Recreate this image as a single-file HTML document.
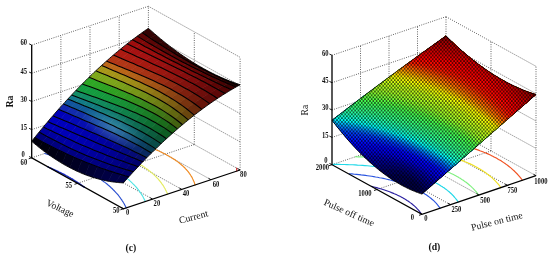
<!DOCTYPE html>
<html><head><meta charset="utf-8"><title>Surface plots</title>
<style>
html,body{margin:0;padding:0;background:#fff}
svg{display:block}
.tk{font-family:"Liberation Serif",serif;font-weight:bold;font-size:7.7px;fill:#111}
.lb{font-family:"Liberation Serif",serif;font-size:9.7px;fill:#111}
.cp{font-family:"Liberation Serif",serif;font-weight:bold;font-size:9.7px;fill:#111}
</style></head><body>
<svg width="550" height="258" viewBox="0 0 550 258">
<defs>
<pattern id="dots" patternUnits="userSpaceOnUse" width="3.3" height="3.8" x="0.4" y="0.3">
<path fill="#000" fill-rule="evenodd" d="M-2 -2H6V6H-2Z M2.81 1.9A1.16 1.16 0 1 0 0.49 1.9A1.16 1.16 0 1 0 2.81 1.9Z M1.16 0A1.16 1.16 0 1 0 -1.16 0A1.16 1.16 0 1 0 1.16 0Z M4.46 0A1.16 1.16 0 1 0 2.14 0A1.16 1.16 0 1 0 4.46 0Z M1.16 3.8A1.16 1.16 0 1 0 -1.16 3.8A1.16 1.16 0 1 0 1.16 3.8Z M4.46 3.8A1.16 1.16 0 1 0 2.14 3.8A1.16 1.16 0 1 0 4.46 3.8Z"/>
</pattern>
<radialGradient id="hl"><stop offset="0" stop-color="#9ff" stop-opacity="0.28"/><stop offset="1" stop-color="#9ff" stop-opacity="0"/></radialGradient>
</defs>
<rect width="550" height="258" fill="#fff"/>
<path d="M31.7 157.8L148.4 119M31.7 129.6L148.4 90.8M31.7 101.5L148.4 62.6M31.7 73.3L148.4 34.5M31.7 45.1L148.4 6.3M60.9 148.1L60.9 35.4M90 138.4L90 25.7M119.2 128.7L119.2 16M148.4 119L148.4 6.3M148.4 119L240.1 170M148.4 90.8L240.1 141.8M148.4 62.6L240.1 113.7M148.4 34.5L240.1 85.5M148.4 6.3L240.1 57.3M194.3 144.5L194.3 31.8M240.1 170L240.1 57.3M60.9 148.1L152.6 199.1M90 138.4L181.8 189.4M119.2 128.7L210.9 179.7M77.6 183.3L194.3 144.5" stroke="#383838" stroke-width="0.85" stroke-dasharray="0.9 1.4" fill="none"/>
<path d="M332 164.7L446 126.1M332 137.4L446 98.8M332 110L446 71.4M332 82.7L446 44.1M332 55.3L446 16.7M360.5 155.1L360.5 45.7M389 145.4L389 36M417.5 135.8L417.5 26.4M446 126.1L446 16.7M446 126.1L536 175.7M446 98.8L536 148.4M446 71.4L536 121M446 44.1L536 93.7M446 16.7L536 66.3M491 150.9L491 41.5M536 175.7L536 66.3M360.5 155.1L450.5 204.7M389 145.4L479 195M417.5 135.8L507.5 185.4M377 189.5L491 150.9" stroke="#383838" stroke-width="0.85" stroke-dasharray="0.9 1.4" fill="none"/>
<polyline points="47.7,166.7 48.9,167.4 50.2,167.9 51.6,168.5 52.9,169.1 54.2,169.7 55.4,170.3 56.7,170.9 58,171.5 59.2,172.1 60.5,172.7 61.7,173.3 62.9,173.9 64.1,174.5 65.3,175.2 66.4,175.8 67.6,176.4 68.7,177.1 69.8,177.7 71,178.4 72.1,179 73.2,179.7 74.2,180.3 75.3,181 76.3,181.7 77.4,182.3 78.4,183 79.4,183.7 80.4,184.4 81.4,185.1 82.3,185.8 83.3,186.5 84.4,187.1" stroke="#1c2cc8" stroke-width="1.5" fill="none" stroke-linecap="round"/>
<polyline points="44.7,153.5 46.3,154 47.8,154.5 49.3,155 50.9,155.5 52.4,156 53.9,156.5 55.4,157.1 56.8,157.6 58.3,158.1 59.7,158.7 61.2,159.2 62.6,159.8 64,160.3 65.4,160.9 66.8,161.4 68.1,162 69.5,162.5 70.8,163.1 72.2,163.7 73.5,164.3 74.8,164.9 76.1,165.4 77.4,166 78.6,166.6 79.9,167.2 81.1,167.8 82.4,168.5 83.6,169.1 84.8,169.7 86,170.3 87.1,170.9 88.3,171.6 89.4,172.2 90.6,172.9 91.7,173.5 92.8,174.2 93.9,174.8 94.9,175.5 96,176.1 97,176.8 98.1,177.5 99.1,178.2 100.1,178.9 101.1,179.6 102,180.3 103,181 103.9,181.7 104.9,182.4 105.8,183.1 106.7,183.8 107.5,184.5 108.4,185.3 109.3,186 110.1,186.7 110.9,187.5 111.7,188.2 112.5,189 113.3,189.8 114,190.5 114.8,191.3 115.5,192.1 116.2,192.9 116.9,193.6 117.6,194.4 118.3,195.2 118.9,196 119.5,196.8 120.1,197.7 120.7,198.5 121.3,199.3 121.9,200.1 122.4,201 123,201.8 123.5,202.7 124,203.5 124.5,204.4 124.9,205.2 125.4,206.1 125.8,207 126.2,207.9" stroke="#2a4fd0" stroke-width="1.15" fill="none" stroke-linecap="round"/>
<polyline points="61.9,147.8 63.5,148.2 65.1,148.7 66.7,149.2 68.3,149.7 69.8,150.2 71.4,150.7 72.9,151.2 74.4,151.7 76,152.3 77.5,152.8 78.9,153.3 80.4,153.8 81.9,154.4 83.3,154.9 84.7,155.4 86.2,156 87.6,156.5 89,157.1 90.3,157.7 91.7,158.2 93.1,158.8 94.4,159.4 95.7,159.9 97,160.5 98.3,161.1 99.6,161.7 100.9,162.3 102.1,162.9 103.4,163.5 104.6,164.1 105.8,164.7 107,165.4 108.2,166 109.3,166.6 110.5,167.3 111.6,167.9 112.7,168.5 113.8,169.2 114.9,169.9 116,170.5 117.1,171.2 118.1,171.9 119.1,172.5 120.1,173.2 121.1,173.9 122.1,174.6 123.1,175.3 124,176 125,176.7 125.9,177.4 126.8,178.1 127.6,178.9 128.5,179.6 129.4,180.3 130.2,181.1 131,181.8 131.8,182.6 132.6,183.3 133.3,184.1 134.1,184.9 134.8,185.7 135.5,186.4 136.2,187.2 136.9,188 137.6,188.8 138.2,189.6 138.8,190.4 139.4,191.2 140,192.1 140.6,192.9 141.1,193.7 141.7,194.6 142.2,195.4 142.7,196.3 143.2,197.1 143.6,198 144.1,198.9 144.5,199.7 144.9,200.6 145.3,201.5" stroke="#50e4e4" stroke-width="1.15" fill="none" stroke-linecap="round"/>
<polyline points="81.3,141.3 83,141.8 84.6,142.2 86.3,142.7 87.9,143.2 89.6,143.6 91.2,144.1 92.8,144.6 94.4,145.1 96,145.6 97.6,146.1 99.1,146.6 100.7,147.1 102.2,147.6 103.7,148.1 105.2,148.6 106.7,149.2 108.2,149.7 109.7,150.2 111.1,150.7 112.6,151.3 114,151.8 115.4,152.4 116.8,152.9 118.1,153.5 119.5,154.1 120.8,154.6 122.2,155.2 123.5,155.8 124.8,156.4 126.1,157 127.3,157.6 128.6,158.2 129.8,158.8 131,159.4 132.2,160 133.4,160.6 134.6,161.3 135.8,161.9 136.9,162.6 138,163.2 139.1,163.9 140.2,164.5 141.3,165.2 142.3,165.8 143.3,166.5 144.4,167.2 145.3,167.9 146.3,168.6 147.3,169.3 148.2,170 149.1,170.7 150.1,171.4 150.9,172.1 151.8,172.9 152.7,173.6 153.5,174.4 154.3,175.1 155.1,175.9 155.9,176.6 156.6,177.4 157.3,178.2 158.1,178.9 158.7,179.7 159.4,180.5 160.1,181.3 160.7,182.1 161.3,182.9 161.9,183.8 162.5,184.6 163.1,185.4 163.6,186.3 164.1,187.1 164.6,188 165.1,188.8 165.5,189.7 166,190.6 166.4,191.5 166.8,192.3 167.2,193.2 167.5,194.1" stroke="#e4ec60" stroke-width="1.15" fill="none" stroke-linecap="round"/>
<polyline points="103.9,133.8 105.7,134.2 107.5,134.6 109.3,135.1 111.1,135.5 112.8,135.9 114.6,136.4 116.3,136.8 118,137.2 119.7,137.7 121.4,138.1 123.1,138.6 124.8,139.1 126.5,139.5 128.1,140 129.7,140.5 131.3,141 132.9,141.5 134.5,141.9 136.1,142.4 137.7,142.9 139.2,143.5 140.7,144 142.2,144.5 143.7,145 145.2,145.5 146.7,146.1 148.1,146.6 149.5,147.1 150.9,147.7 152.3,148.3 153.7,148.8 155.1,149.4 156.4,150 157.7,150.5 159,151.1 160.3,151.7 161.6,152.3 162.8,152.9 164,153.5 165.2,154.1 166.4,154.8 167.6,155.4 168.7,156 169.8,156.7 171,157.3 172,158 173.1,158.7 174.1,159.3 175.2,160 176.1,160.7 177.1,161.4 178.1,162.1 179,162.8 179.9,163.5 180.8,164.3 181.6,165 182.5,165.7 183.3,166.5 184.1,167.2 184.9,168 185.6,168.8 186.3,169.5 187,170.3 187.7,171.1 188.3,171.9 188.9,172.7 189.5,173.6 190.1,174.4 190.7,175.2 191.2,176.1 191.7,176.9 192.2,177.8 192.6,178.7 193,179.5 193.4,180.4 193.8,181.3 194.2,182.2 194.5,183.1 194.8,184 195.1,185" stroke="#f08a20" stroke-width="1.15" fill="none" stroke-linecap="round"/>
<polyline points="132.3,124.4 134.4,124.7 136.4,125 138.5,125.4 140.5,125.7 142.5,126 144.5,126.4 146.6,126.7 148.6,127.1 150.5,127.5 152.5,127.8 154.5,128.2 156.5,128.5 158.4,128.9 160.3,129.3 162.3,129.7 164.2,130.1 166.1,130.4 168,130.8 169.9,131.2" stroke="#d02020" stroke-width="1.15" fill="none" stroke-linecap="round"/>
<polyline points="236.7,168.1 236.7,169.1 236.8,170.1 236.8,171.1" stroke="#d02020" stroke-width="1.15" fill="none" stroke-linecap="round"/>
<polyline points="371.5,186.3 373.3,186.8 375,187.2 376.6,187.6 378.2,188.1 379.8,188.5 381.4,189 382.9,189.5 384.5,190 385.9,190.5 387.4,191 388.8,191.5 390.2,192 391.6,192.6 392.9,193.1 394.3,193.7 395.6,194.2 396.8,194.8 398.1,195.4 399.3,196 400.4,196.6 401.6,197.2 402.7,197.8 403.8,198.4 404.9,199.1 406,199.7 407,200.4 408,201 409,201.7 409.9,202.4 410.9,203.1 411.8,203.8 412.6,204.5 413.5,205.2 414.3,205.9 415.1,206.6 415.9,207.4 416.6,208.1 417.3,208.9 418,209.6 418.7,210.4 419.4,211.2 420,212 420.6,212.8 421.1,213.6" stroke="#2a1fa0" stroke-width="1.15" fill="none" stroke-linecap="round"/>
<polyline points="349.6,173.7 352,173.9 354.3,174.2 356.6,174.4 358.9,174.6 361.1,174.9 363.3,175.1 365.4,175.4 367.5,175.7 369.6,176 371.7,176.3 373.7,176.6 375.6,177 377.6,177.3 379.5,177.7 381.4,178 383.2,178.4 385,178.8 386.8,179.2 388.5,179.6 390.3,180 391.9,180.4 393.6,180.9 395.2,181.3 396.8,181.8 398.4,182.3 399.9,182.7 401.5,183.2 402.9,183.7 404.4,184.2 405.8,184.7 407.2,185.3 408.6,185.8 410,186.3 411.3,186.9 412.6,187.5 413.9,188 415.1,188.6 416.4,189.2 417.6,189.8 418.7,190.4 419.9,191 421,191.6 422.1,192.2 423.2,192.9 424.2,193.5 425.2,194.2 426.2,194.8 427.2,195.5 428.2,196.2 429.1,196.9 430,197.6 430.9,198.3 431.7,199 432.6,199.7 433.4,200.4 434.2,201.2 434.9,201.9 435.6,202.7 436.4,203.4 437,204.2 437.7,205 438.3,205.8 438.9,206.6 439.5,207.4 440.1,208.2" stroke="#2a55e0" stroke-width="1.15" fill="none" stroke-linecap="round"/>
<polyline points="332.8,164.4 335.8,164.4 338.7,164.4 341.5,164.5 344.3,164.5 347,164.6 349.7,164.7 352.4,164.8 355,164.9 357.5,165.1 360,165.2 362.5,165.4 364.9,165.6 367.3,165.8 369.7,166 372,166.2 374.2,166.4 376.5,166.7 378.7,166.9 380.8,167.2 382.9,167.5 385,167.8 387.1,168.1 389.1,168.4 391,168.7 393,169.1 394.9,169.4 396.8,169.8 398.6,170.2 400.4,170.6 402.2,171 404,171.4 405.7,171.8 407.4,172.2 409,172.6 410.7,173.1 412.3,173.6 413.9,174 415.4,174.5 416.9,175 418.4,175.5 419.9,176 421.3,176.5 422.7,177 424.1,177.5 425.5,178.1 426.8,178.6 428.1,179.2 429.4,179.8 430.7,180.3 431.9,180.9 433.1,181.5 434.3,182.1 435.5,182.7 436.6,183.3 437.8,183.9 438.9,184.6 439.9,185.2 441,185.9 442,186.5 443,187.2 444,187.8 444.9,188.5 445.9,189.2 446.8,189.9 447.6,190.6 448.5,191.3 449.4,192 450.2,192.8 451,193.5 451.7,194.2 452.5,195 453.2,195.7 453.9,196.5 454.6,197.3 455.2,198 455.9,198.8 456.5,199.6 457.1,200.4 457.6,201.2 458.2,202" stroke="#20d8e8" stroke-width="1.15" fill="none" stroke-linecap="round"/>
<polyline points="355.5,156.7 358.4,156.8 361.2,156.8 364,156.9 366.7,157 369.4,157.1 372,157.2 374.6,157.3 377.1,157.4 379.6,157.6 382.1,157.8 384.5,157.9 386.9,158.1 389.2,158.4 391.5,158.6 393.7,158.8 395.9,159.1 398.1,159.3 400.2,159.6 402.3,159.9 404.4,160.2 406.4,160.5 408.4,160.8 410.4,161.2 412.3,161.5 414.2,161.9 416.1,162.3 417.9,162.6 419.7,163 421.5,163.4 423.2,163.8 424.9,164.3 426.6,164.7 428.2,165.1 429.9,165.6 431.5,166.1 433,166.5 434.6,167 436.1,167.5 437.6,168 439,168.5 440.5,169 441.9,169.5 443.3,170.1 444.6,170.6 446,171.2 447.3,171.7 448.6,172.3 449.8,172.8 451.1,173.4 452.3,174 453.5,174.6 454.7,175.2 455.8,175.8 456.9,176.4 458.1,177.1 459.1,177.7 460.2,178.3 461.2,179 462.3,179.7 463.3,180.3 464.2,181 465.2,181.7 466.1,182.3 467,183 467.9,183.7 468.8,184.5 469.6,185.2 470.4,185.9 471.2,186.6 472,187.4 472.8,188.1 473.5,188.8 474.2,189.6 474.9,190.4 475.6,191.1 476.3,191.9 476.9,192.7 477.5,193.5 478.1,194.3 478.7,195.1" stroke="#80f080" stroke-width="1.15" fill="none" stroke-linecap="round"/>
<polyline points="382.4,147.6 385.2,147.7 387.9,147.8 390.6,147.9 393.2,148 395.8,148.1 398.3,148.3 400.8,148.4 403.2,148.6 405.6,148.8 407.9,149 410.2,149.2 412.5,149.5 414.7,149.7 416.9,150 419,150.2 421.2,150.5 423.2,150.8 425.3,151.1 427.3,151.5 429.2,151.8 431.2,152.1 433.1,152.5 434.9,152.9 436.8,153.2 438.6,153.6 440.4,154 442.1,154.4 443.8,154.9 445.5,155.3 447.2,155.7 448.8,156.2 450.4,156.6 452,157.1 453.5,157.6 455.1,158.1 456.6,158.6 458,159.1 459.5,159.6 460.9,160.1 462.3,160.6 463.7,161.1 465,161.7 466.4,162.2 467.7,162.8 469,163.4 470.2,163.9 471.5,164.5 472.7,165.1 473.9,165.7 475,166.3 476.2,166.9 477.3,167.5 478.4,168.2 479.5,168.8 480.6,169.4 481.6,170.1 482.7,170.7 483.7,171.4 484.7,172.1 485.6,172.7 486.6,173.4 487.5,174.1 488.4,174.8 489.3,175.5 490.2,176.2 491,176.9 491.9,177.6 492.7,178.4 493.4,179.1 494.2,179.8 495,180.6 495.7,181.3 496.4,182.1 497.1,182.9 497.8,183.6 498.4,184.4 499.1,185.2 499.7,186 500.3,186.8 500.8,187.6" stroke="#f0e020" stroke-width="1.15" fill="none" stroke-linecap="round"/>
<polyline points="410,138.3 412.6,138.4 415.2,138.5 417.7,138.7 420.2,138.9 422.6,139 425,139.2 427.3,139.4 429.6,139.7 431.8,139.9 434.1,140.2 436.2,140.4 438.4,140.7 440.5,141 442.5,141.3 444.5,141.6 446.5,141.9 448.5,142.3 450.4,142.6 452.3,143 454.1,143.4 456,143.7 457.8,144.1 459.5,144.5 461.2,145 462.9,145.4 464.6,145.8 466.3,146.3 467.9,146.7 469.5,147.2 471,147.6 472.6,148.1 474.1,148.6 475.6,149.1 477,149.6 478.5,150.1 479.9,150.7 481.3,151.2 482.7,151.7 484,152.3 485.3,152.8 486.6,153.4 487.9,153.9 489.2,154.5 490.4,155.1 491.6,155.7 492.8,156.3 494,156.9 495.2,157.5 496.3,158.1 497.4,158.7 498.5,159.4 499.6,160 500.7,160.6 501.7,161.3 502.7,161.9 503.7,162.6 504.7,163.3 505.7,164 506.6,164.6 507.5,165.3 508.4,166 509.3,166.7 510.2,167.4 511.1,168.1 511.9,168.8 512.7,169.6 513.5,170.3 514.3,171 515.1,171.8 515.8,172.5 516.6,173.3 517.3,174 518,174.8 518.7,175.6 519.3,176.3 520,177.1 520.6,177.9 521.2,178.7 521.8,179.5 522.3,180.3" stroke="#f05020" stroke-width="1.15" fill="none" stroke-linecap="round"/>
<clipPath id="clipL"><polygon points="31.7,141.3 33.2,142.6 34.8,143.9 36.3,145.1 37.8,146.4 39.3,147.6 40.9,148.8 42.4,150 43.9,151.2 45.5,152.3 47,153.4 48.5,154.5 50,155.6 51.6,156.7 53.1,157.7 54.6,158.7 56.2,159.7 57.7,160.7 59.2,161.6 60.7,162.6 62.3,163.5 63.8,164.4 65.3,165.3 66.9,166.1 68.4,166.9 69.9,167.7 71.4,168.5 73,169.3 74.5,170 76,170.8 77.6,171.5 79.1,172.1 80.6,172.8 82.1,173.5 83.7,174.1 85.2,174.7 86.7,175.3 88.2,175.8 89.8,176.3 91.3,176.9 92.8,177.4 94.4,177.8 95.9,178.3 97.4,178.7 98.9,179.1 100.5,179.5 102,179.9 103.5,180.2 105.1,180.6 106.6,180.9 108.1,181.2 109.6,181.4 111.2,181.7 112.7,181.9 114.2,182.1 115.8,182.3 117.3,182.4 118.8,182.6 120.3,182.7 121.9,182.8 123.4,182.9 123.4,182.9 125.3,180.7 127.3,178.5 129.2,176.4 131.2,174.2 133.1,172.1 135.1,170 137,167.9 139,165.9 140.9,163.8 142.8,161.8 144.8,159.8 146.7,157.8 148.7,155.8 150.6,153.9 152.6,152 154.5,150.1 156.5,148.2 158.4,146.3 160.4,144.4 162.3,142.6 164.2,140.8 166.2,139 168.1,137.2 170.1,135.5 172,133.7 174,132 175.9,130.3 177.9,128.6 179.8,126.9 181.8,125.3 183.7,123.7 185.6,122.1 187.6,120.5 189.5,118.9 191.5,117.4 193.4,115.8 195.4,114.3 197.3,112.8 199.3,111.3 201.2,109.9 203.1,108.4 205.1,107 207,105.6 209,104.2 210.9,102.9 212.9,101.5 214.8,100.2 216.8,98.9 218.7,97.6 220.7,96.4 222.6,95.1 224.5,93.9 226.5,92.7 228.4,91.5 230.4,90.3 232.3,89.2 234.3,88 236.2,86.9 238.2,85.8 240.1,84.7 240.1,84.7 238.6,84.2 237,83.7 235.5,83.2 234,82.6 232.5,82 230.9,81.5 229.4,80.9 227.9,80.3 226.3,79.6 224.8,79 223.3,78.3 221.8,77.7 220.2,77 218.7,76.3 217.2,75.6 215.6,74.9 214.1,74.1 212.6,73.4 211.1,72.6 209.5,71.8 208,71 206.5,70.2 204.9,69.3 203.4,68.5 201.9,67.6 200.4,66.8 198.8,65.9 197.3,65 195.8,64.1 194.3,63.1 192.7,62.2 191.2,61.2 189.7,60.2 188.1,59.2 186.6,58.2 185.1,57.2 183.6,56.2 182,55.1 180.5,54.1 179,53 177.4,51.9 175.9,50.8 174.4,49.6 172.9,48.5 171.3,47.4 169.8,46.2 168.3,45 166.7,43.8 165.2,42.6 163.7,41.4 162.2,40.1 160.6,38.9 159.1,37.6 157.6,36.3 156,35 154.5,33.7 153,32.4 151.5,31 149.9,29.7 148.4,28.3 148.4,28.3 146.5,29.6 144.5,30.9 142.6,32.3 140.6,33.7 138.7,35.1 136.7,36.5 134.8,38 132.8,39.4 130.9,40.9 128.9,42.4 127,43.9 125.1,45.4 123.1,47 121.2,48.6 119.2,50.2 117.3,51.8 115.3,53.4 113.4,55 111.4,56.7 109.5,58.4 107.6,60.1 105.6,61.8 103.7,63.6 101.7,65.3 99.8,67.1 97.8,68.9 95.9,70.7 93.9,72.5 92,74.4 90,76.3 88.1,78.2 86.2,80.1 84.2,82 82.3,84 80.3,85.9 78.4,87.9 76.4,89.9 74.5,91.9 72.5,94 70.6,96.1 68.7,98.1 66.7,100.2 64.8,102.4 62.8,104.5 60.9,106.6 58.9,108.8 57,111 55,113.2 53.1,115.5 51.1,117.7 49.2,120 47.3,122.3 45.3,124.6 43.4,126.9 41.4,129.3 39.5,131.6 37.5,134 35.6,136.4 33.6,138.8 31.7,141.3"/></clipPath>
<g clip-path="url(#clipL)" stroke-linejoin="round" stroke-width="0.6">
<polygon points="31.7,141.3 39.3,147.6 42.6,141.9 34.7,137.5" fill="#00000e" stroke="#00000e"/>
<polygon points="39.3,147.6 47,153.4 50.4,146 42.6,141.9" fill="#000010" stroke="#000010"/>
<polygon points="47,153.4 54.6,158.7 58.2,149.9 50.4,146" fill="#000014" stroke="#000014"/>
<polygon points="54.6,158.7 62.3,163.5 66.1,153.7 58.2,149.9" fill="#000019" stroke="#000019"/>
<polygon points="62.3,163.5 69.9,167.7 74,157.3 66.1,153.7" fill="#000020" stroke="#000020"/>
<polygon points="69.9,167.7 77.6,171.5 81.8,160.6 74,157.3" fill="#000027" stroke="#000027"/>
<polygon points="77.6,171.5 85.2,174.7 89.7,163.8 81.8,160.6" fill="#000030" stroke="#000030"/>
<polygon points="85.2,174.7 92.8,177.4 97.5,166.8 89.7,163.8" fill="#000039" stroke="#000039"/>
<polygon points="92.8,177.4 100.5,179.5 105.4,169.5 97.5,166.8" fill="#000042" stroke="#000042"/>
<polygon points="100.5,179.5 108.1,181.2 113.2,172.1 105.4,169.5" fill="#00004b" stroke="#00004b"/>
<polygon points="108.1,181.2 115.8,182.3 121,174.5 113.2,172.1" fill="#000052" stroke="#000052"/>
<polygon points="115.8,182.3 123.4,182.9 128.9,176.7 121,174.5" fill="#000052" stroke="#000052"/>
<polygon points="34.7,137.5 42.6,141.9 47,136.5 39.1,132.1" fill="#000083" stroke="#000083"/>
<polygon points="42.6,141.9 50.4,146 54.8,140.6 47,136.5" fill="#000087" stroke="#000087"/>
<polygon points="50.4,146 58.2,149.9 62.7,144.6 54.8,140.6" fill="#00008a" stroke="#00008a"/>
<polygon points="58.2,149.9 66.1,153.7 70.6,148.4 62.7,144.6" fill="#00008d" stroke="#00008d"/>
<polygon points="66.1,153.7 74,157.3 78.4,152 70.6,148.4" fill="#00008f" stroke="#00008f"/>
<polygon points="74,157.3 81.8,160.6 86.3,155.4 78.4,152" fill="#000090" stroke="#000090"/>
<polygon points="81.8,160.6 89.7,163.8 94.2,158.6 86.3,155.4" fill="#000090" stroke="#000090"/>
<polygon points="89.7,163.8 97.5,166.8 102,161.6 94.2,158.6" fill="#00008f" stroke="#00008f"/>
<polygon points="97.5,166.8 105.4,169.5 109.9,164.4 102,161.6" fill="#00008b" stroke="#00008b"/>
<polygon points="105.4,169.5 113.2,172.1 117.8,167 109.9,164.4" fill="#000085" stroke="#000085"/>
<polygon points="113.2,172.1 121,174.5 125.6,169.5 117.8,167" fill="#00007e" stroke="#00007e"/>
<polygon points="121,174.5 128.9,176.7 133.5,171.7 125.6,169.5" fill="#000076" stroke="#000076"/>
<polygon points="39.1,132.1 47,136.5 51.3,130.8 43.4,126.9" fill="#0000ab" stroke="#0000ab"/>
<polygon points="47,136.5 54.8,140.6 59.2,134.6 51.3,130.8" fill="#0000ad" stroke="#0000ad"/>
<polygon points="54.8,140.6 62.7,144.6 67.1,138.3 59.2,134.6" fill="#0000af" stroke="#0000af"/>
<polygon points="62.7,144.6 70.6,148.4 75,141.9 67.1,138.3" fill="#0000b0" stroke="#0000b0"/>
<polygon points="70.6,148.4 78.4,152 82.9,145.4 75,141.9" fill="#0000b0" stroke="#0000b0"/>
<polygon points="78.4,152 86.3,155.4 90.8,148.8 82.9,145.4" fill="#0000ae" stroke="#0000ae"/>
<polygon points="86.3,155.4 94.2,158.6 98.7,152 90.8,148.8" fill="#0000ac" stroke="#0000ac"/>
<polygon points="94.2,158.6 102,161.6 106.6,155.2 98.7,152" fill="#0000a7" stroke="#0000a7"/>
<polygon points="102,161.6 109.9,164.4 114.5,158.2 106.6,155.2" fill="#00009f" stroke="#00009f"/>
<polygon points="109.9,164.4 117.8,167 122.4,161.1 114.5,158.2" fill="#000095" stroke="#000095"/>
<polygon points="117.8,167 125.6,169.5 130.3,164 122.4,161.1" fill="#000089" stroke="#000089"/>
<polygon points="125.6,169.5 133.5,171.7 138.2,166.7 130.3,164" fill="#00007d" stroke="#00007d"/>
<polygon points="43.4,126.9 51.3,130.8 55.7,125.1 47.8,121.6" fill="#0000c8" stroke="#0000c8"/>
<polygon points="51.3,130.8 59.2,134.6 63.6,128.6 55.7,125.1" fill="#0000c7" stroke="#0000c7"/>
<polygon points="59.2,134.6 67.1,138.3 71.6,132 63.6,128.6" fill="#0000c6" stroke="#0000c6"/>
<polygon points="67.1,138.3 75,141.9 79.5,135.5 71.6,132" fill="#0000c3" stroke="#0000c3"/>
<polygon points="75,141.9 82.9,145.4 87.4,138.8 79.5,135.5" fill="#0000bf" stroke="#0000bf"/>
<polygon points="82.9,145.4 90.8,148.8 95.3,142.2 87.4,138.8" fill="#0000ba" stroke="#0000ba"/>
<polygon points="90.8,148.8 98.7,152 103.3,145.5 95.3,142.2" fill="#0000b3" stroke="#0000b3"/>
<polygon points="98.7,152 106.6,155.2 111.2,148.8 103.3,145.5" fill="#0000ab" stroke="#0000ab"/>
<polygon points="106.6,155.2 114.5,158.2 119.1,152.1 111.2,148.8" fill="#0000a1" stroke="#0000a1"/>
<polygon points="114.5,158.2 122.4,161.1 127.1,155.3 119.1,152.1" fill="#000096" stroke="#000096"/>
<polygon points="122.4,161.1 130.3,164 135,158.6 127.1,155.3" fill="#000089" stroke="#000089"/>
<polygon points="130.3,164 138.2,166.7 142.9,161.7 135,158.6" fill="#00007c" stroke="#00007c"/>
<polygon points="47.8,121.6 55.7,125.1 60.7,119 52.9,115.7" fill="#0000cd" stroke="#0000cd"/>
<polygon points="55.7,125.1 63.6,128.6 68.5,122.3 60.7,119" fill="#0000cb" stroke="#0000cb"/>
<polygon points="63.6,128.6 71.6,132 76.4,125.7 68.5,122.3" fill="#0000c8" stroke="#0000c8"/>
<polygon points="71.6,132 79.5,135.5 84.2,129 76.4,125.7" fill="#0000c4" stroke="#0000c4"/>
<polygon points="79.5,135.5 87.4,138.8 92,132.4 84.2,129" fill="#0000be" stroke="#0000be"/>
<polygon points="87.4,138.8 95.3,142.2 99.8,135.8 92,132.4" fill="#0000b8" stroke="#0000b8"/>
<polygon points="95.3,142.2 103.3,145.5 107.7,139.2 99.8,135.8" fill="#0000b0" stroke="#0000b0"/>
<polygon points="103.3,145.5 111.2,148.8 115.5,142.7 107.7,139.2" fill="#0001a7" stroke="#0001a7"/>
<polygon points="111.2,148.8 119.1,152.1 123.3,146.3 115.5,142.7" fill="#03069c" stroke="#03069c"/>
<polygon points="119.1,152.1 127.1,155.3 131.2,150 123.3,146.3" fill="#050b91" stroke="#050b91"/>
<polygon points="127.1,155.3 135,158.6 139,153.8 131.2,150" fill="#070e84" stroke="#070e84"/>
<polygon points="135,158.6 142.9,161.7 146.8,157.7 139,153.8" fill="#091176" stroke="#091176"/>
<polygon points="52.9,115.7 60.7,119 66.2,112.6 58.5,109.3" fill="#0102c7" stroke="#0102c7"/>
<polygon points="60.7,119 68.5,122.3 74,115.9 66.2,112.6" fill="#0306c5" stroke="#0306c5"/>
<polygon points="68.5,122.3 76.4,125.7 81.7,119.2 74,115.9" fill="#050bc2" stroke="#050bc2"/>
<polygon points="76.4,125.7 84.2,129 89.5,122.5 81.7,119.2" fill="#0810bd" stroke="#0810bd"/>
<polygon points="84.2,129 92,132.4 97.2,125.9 89.5,122.5" fill="#0a15b7" stroke="#0a15b7"/>
<polygon points="92,132.4 99.8,135.8 105,129.3 97.2,125.9" fill="#0d1ab0" stroke="#0d1ab0"/>
<polygon points="99.8,135.8 107.7,139.2 112.8,132.8 105,129.3" fill="#0f1ea8" stroke="#0f1ea8"/>
<polygon points="107.7,139.2 115.5,142.7 120.5,136.5 112.8,132.8" fill="#11229e" stroke="#11229e"/>
<polygon points="115.5,142.7 123.3,146.3 128.2,140.3 120.5,136.5" fill="#102793" stroke="#102793"/>
<polygon points="123.3,146.3 131.2,150 136,144.3 128.2,140.3" fill="#0f2b87" stroke="#0f2b87"/>
<polygon points="131.2,150 139,153.8 143.8,148.5 136,144.3" fill="#0e2d7a" stroke="#0e2d7a"/>
<polygon points="139,153.8 146.8,157.7 151.5,153 143.8,148.5" fill="#0c2e6c" stroke="#0c2e6c"/>
<polygon points="58.5,109.3 66.2,112.6 71.1,107.2 63.4,103.9" fill="#142abd" stroke="#142abd"/>
<polygon points="66.2,112.6 74,115.9 78.8,110.5 71.1,107.2" fill="#142fba" stroke="#142fba"/>
<polygon points="74,115.9 81.7,119.2 86.5,113.8 78.8,110.5" fill="#1434b6" stroke="#1434b6"/>
<polygon points="81.7,119.2 89.5,122.5 94.2,117.2 86.5,113.8" fill="#1339b0" stroke="#1339b0"/>
<polygon points="89.5,122.5 97.2,125.9 101.9,120.6 94.2,117.2" fill="#133ea9" stroke="#133ea9"/>
<polygon points="97.2,125.9 105,129.3 109.5,124.1 101.9,120.6" fill="#1242a1" stroke="#1242a1"/>
<polygon points="105,129.3 112.8,132.8 117.2,127.7 109.5,124.1" fill="#124699" stroke="#124699"/>
<polygon points="112.8,132.8 120.5,136.5 124.9,131.4 117.2,127.7" fill="#11498f" stroke="#11498f"/>
<polygon points="120.5,136.5 128.2,140.3 132.6,135.3 124.9,131.4" fill="#104a85" stroke="#104a85"/>
<polygon points="128.2,140.3 136,144.3 140.3,139.5 132.6,135.3" fill="#0f4a7a" stroke="#0f4a7a"/>
<polygon points="136,144.3 143.8,148.5 148,144 140.3,139.5" fill="#0e486e" stroke="#0e486e"/>
<polygon points="143.8,148.5 151.5,153 155.7,148.9 148,144" fill="#0c4561" stroke="#0c4561"/>
<polygon points="63.4,103.9 71.1,107.2 75.6,102.2 67.8,99.1" fill="#145ba9" stroke="#145ba9"/>
<polygon points="71.1,107.2 78.8,110.5 83.4,105.4 75.6,102.2" fill="#145ea6" stroke="#145ea6"/>
<polygon points="78.8,110.5 86.5,113.8 91.1,108.6 83.4,105.4" fill="#1461a2" stroke="#1461a2"/>
<polygon points="86.5,113.8 94.2,117.2 98.9,111.9 91.1,108.6" fill="#13649d" stroke="#13649d"/>
<polygon points="94.2,117.2 101.9,120.6 106.7,115.2 98.9,111.9" fill="#136697" stroke="#136697"/>
<polygon points="101.9,120.6 109.5,124.1 114.5,118.6 106.7,115.2" fill="#126890" stroke="#126890"/>
<polygon points="109.5,124.1 117.2,127.7 122.3,122.1 114.5,118.6" fill="#126888" stroke="#126888"/>
<polygon points="117.2,127.7 124.9,131.4 130.1,125.8 122.3,122.1" fill="#116880" stroke="#116880"/>
<polygon points="124.9,131.4 132.6,135.3 137.8,129.7 130.1,125.8" fill="#106776" stroke="#106776"/>
<polygon points="132.6,135.3 140.3,139.5 145.6,134 137.8,129.7" fill="#0f626a" stroke="#0f626a"/>
<polygon points="140.3,139.5 148,144 153.4,138.6 145.6,134" fill="#0e5c5e" stroke="#0e5c5e"/>
<polygon points="148,144 155.7,148.9 161.2,143.6 153.4,138.6" fill="#0c5551" stroke="#0c5551"/>
<polygon points="67.8,99.1 75.6,102.2 79.5,98 71.6,95" fill="#148395" stroke="#148395"/>
<polygon points="75.6,102.2 83.4,105.4 87.4,101 79.5,98" fill="#148391" stroke="#148391"/>
<polygon points="83.4,105.4 91.1,108.6 95.3,104.1 87.4,101" fill="#14848b" stroke="#14848b"/>
<polygon points="91.1,108.6 98.9,111.9 103.2,107.2 95.3,104.1" fill="#138385" stroke="#138385"/>
<polygon points="98.9,111.9 106.7,115.2 111.1,110.3 103.2,107.2" fill="#13827d" stroke="#13827d"/>
<polygon points="106.7,115.2 114.5,118.6 119.1,113.6 111.1,110.3" fill="#128075" stroke="#128075"/>
<polygon points="114.5,118.6 122.3,122.1 127,117 119.1,113.6" fill="#127e6c" stroke="#127e6c"/>
<polygon points="122.3,122.1 130.1,125.8 134.9,120.7 127,117" fill="#117a63" stroke="#117a63"/>
<polygon points="130.1,125.8 137.8,129.7 142.8,124.6 134.9,120.7" fill="#10755a" stroke="#10755a"/>
<polygon points="137.8,129.7 145.6,134 150.7,128.8 142.8,124.6" fill="#0f6f50" stroke="#0f6f50"/>
<polygon points="145.6,134 153.4,138.6 158.6,133.5 150.7,128.8" fill="#0e6846" stroke="#0e6846"/>
<polygon points="153.4,138.6 161.2,143.6 166.5,138.7 158.6,133.5" fill="#0d5f3c" stroke="#0d5f3c"/>
<polygon points="71.6,95 79.5,98 83.9,93.3 75.9,90.5" fill="#14966e" stroke="#14966e"/>
<polygon points="79.5,98 87.4,101 92,96.2 83.9,93.3" fill="#14966c" stroke="#14966c"/>
<polygon points="87.4,101 95.3,104.1 100,99 92,96.2" fill="#149568" stroke="#149568"/>
<polygon points="95.3,104.1 103.2,107.2 108.1,101.9 100,99" fill="#149364" stroke="#149364"/>
<polygon points="103.2,107.2 111.1,110.3 116.1,104.9 108.1,101.9" fill="#13915e" stroke="#13915e"/>
<polygon points="111.1,110.3 119.1,113.6 124.2,108 116.1,104.9" fill="#138e58" stroke="#138e58"/>
<polygon points="119.1,113.6 127,117 132.2,111.4 124.2,108" fill="#128b51" stroke="#128b51"/>
<polygon points="127,117 134.9,120.7 140.2,114.9 132.2,111.4" fill="#128649" stroke="#128649"/>
<polygon points="134.9,120.7 142.8,124.6 148.3,118.8 140.2,114.9" fill="#118041" stroke="#118041"/>
<polygon points="142.8,124.6 150.7,128.8 156.3,123.1 148.3,118.8" fill="#107a38" stroke="#107a38"/>
<polygon points="150.7,128.8 158.6,133.5 164.4,127.9 156.3,123.1" fill="#0f7230" stroke="#0f7230"/>
<polygon points="158.6,133.5 166.5,138.7 172.4,133.4 164.4,127.9" fill="#106828" stroke="#106828"/>
<polygon points="75.9,90.5 83.9,93.3 90.2,86.8 82.3,83.9" fill="#16a846" stroke="#16a846"/>
<polygon points="83.9,93.3 92,96.2 98.2,89.7 90.2,86.8" fill="#16a745" stroke="#16a745"/>
<polygon points="92,96.2 100,99 106.1,92.7 98.2,89.7" fill="#17a543" stroke="#17a543"/>
<polygon points="100,99 108.1,101.9 114,95.7 106.1,92.7" fill="#18a341" stroke="#18a341"/>
<polygon points="108.1,101.9 116.1,104.9 122,98.7 114,95.7" fill="#189f3e" stroke="#189f3e"/>
<polygon points="116.1,104.9 124.2,108 129.9,102 122,98.7" fill="#1a9b3a" stroke="#1a9b3a"/>
<polygon points="124.2,108 132.2,111.4 137.8,105.4 129.9,102" fill="#1b9635" stroke="#1b9635"/>
<polygon points="132.2,111.4 140.2,114.9 145.8,109.2 137.8,105.4" fill="#1c9030" stroke="#1c9030"/>
<polygon points="140.2,114.9 148.3,118.8 153.7,113.3 145.8,109.2" fill="#1d892b" stroke="#1d892b"/>
<polygon points="148.3,118.8 156.3,123.1 161.6,117.9 153.7,113.3" fill="#1e8125" stroke="#1e8125"/>
<polygon points="156.3,123.1 164.4,127.9 169.6,123 161.6,117.9" fill="#1f781f" stroke="#1f781f"/>
<polygon points="164.4,127.9 172.4,133.4 177.5,128.9 169.6,123" fill="#1f6d19" stroke="#1f6d19"/>
<polygon points="82.3,83.9 90.2,86.8 96.8,80.4 89,77.3" fill="#32b228" stroke="#32b228"/>
<polygon points="90.2,86.8 98.2,89.7 104.6,83.4 96.8,80.4" fill="#32b128" stroke="#32b128"/>
<polygon points="98.2,89.7 106.1,92.7 112.4,86.5 104.6,83.4" fill="#33af27" stroke="#33af27"/>
<polygon points="106.1,92.7 114,95.7 120.2,89.7 112.4,86.5" fill="#34ac26" stroke="#34ac26"/>
<polygon points="114,95.7 122,98.7 128,92.9 120.2,89.7" fill="#36a825" stroke="#36a825"/>
<polygon points="122,98.7 129.9,102 135.8,96.4 128,92.9" fill="#38a323" stroke="#38a323"/>
<polygon points="129.9,102 137.8,105.4 143.5,100 135.8,96.4" fill="#3b9c21" stroke="#3b9c21"/>
<polygon points="137.8,105.4 145.8,109.2 151.3,103.9 143.5,100" fill="#3e951f" stroke="#3e951f"/>
<polygon points="145.8,109.2 153.7,113.3 159.1,108.2 151.3,103.9" fill="#428d1c" stroke="#428d1c"/>
<polygon points="153.7,113.3 161.6,117.9 166.9,113.1 159.1,108.2" fill="#46841a" stroke="#46841a"/>
<polygon points="161.6,117.9 169.6,123 174.7,118.5 166.9,113.1" fill="#497a17" stroke="#497a17"/>
<polygon points="169.6,123 177.5,128.9 182.5,124.7 174.7,118.5" fill="#4b6e13" stroke="#4b6e13"/>
<polygon points="89,77.3 96.8,80.4 103.5,74 95.8,70.8" fill="#87b41e" stroke="#87b41e"/>
<polygon points="96.8,80.4 104.6,83.4 111.2,77.2 103.5,74" fill="#86b31e" stroke="#86b31e"/>
<polygon points="104.6,83.4 112.4,86.5 118.9,80.5 111.2,77.2" fill="#85b01d" stroke="#85b01d"/>
<polygon points="112.4,86.5 120.2,89.7 126.6,83.8 118.9,80.5" fill="#84ad1d" stroke="#84ad1d"/>
<polygon points="120.2,89.7 128,92.9 134.3,87.2 126.6,83.8" fill="#82a81c" stroke="#82a81c"/>
<polygon points="128,92.9 135.8,96.4 142.1,90.7 134.3,87.2" fill="#80a21b" stroke="#80a21b"/>
<polygon points="135.8,96.4 143.5,100 149.8,94.5 142.1,90.7" fill="#7d9b1a" stroke="#7d9b1a"/>
<polygon points="143.5,100 151.3,103.9 157.5,98.6 149.8,94.5" fill="#7a9319" stroke="#7a9319"/>
<polygon points="151.3,103.9 159.1,108.2 165.2,103 157.5,98.6" fill="#778917" stroke="#778917"/>
<polygon points="159.1,108.2 166.9,113.1 172.9,108 165.2,103" fill="#727f15" stroke="#727f15"/>
<polygon points="166.9,113.1 174.7,118.5 180.6,113.6 172.9,108" fill="#6d7314" stroke="#6d7314"/>
<polygon points="174.7,118.5 182.5,124.7 188.3,119.9 180.6,113.6" fill="#676712" stroke="#676712"/>
<polygon points="95.8,70.8 103.5,74 109.2,68.8 101.5,65.5" fill="#b4a21c" stroke="#b4a21c"/>
<polygon points="103.5,74 111.2,77.2 116.9,72 109.2,68.8" fill="#b3a11c" stroke="#b3a11c"/>
<polygon points="111.2,77.2 118.9,80.5 124.7,75.3 116.9,72" fill="#b19e1b" stroke="#b19e1b"/>
<polygon points="118.9,80.5 126.6,83.8 132.4,78.7 124.7,75.3" fill="#ae9b1b" stroke="#ae9b1b"/>
<polygon points="126.6,83.8 134.3,87.2 140.1,82.1 132.4,78.7" fill="#ab961a" stroke="#ab961a"/>
<polygon points="134.3,87.2 142.1,90.7 147.8,85.7 140.1,82.1" fill="#a68f1a" stroke="#a68f1a"/>
<polygon points="142.1,90.7 149.8,94.5 155.6,89.6 147.8,85.7" fill="#a18719" stroke="#a18719"/>
<polygon points="149.8,94.5 157.5,98.6 163.3,93.7 155.6,89.6" fill="#9a7e17" stroke="#9a7e17"/>
<polygon points="157.5,98.6 165.2,103 171,98.2 163.3,93.7" fill="#937416" stroke="#937416"/>
<polygon points="165.2,103 172.9,108 178.8,103.2 171,98.2" fill="#8b6915" stroke="#8b6915"/>
<polygon points="172.9,108 180.6,113.6 186.5,108.8 178.8,103.2" fill="#825d13" stroke="#825d13"/>
<polygon points="180.6,113.6 188.3,119.9 194.2,115.2 186.5,108.8" fill="#775011" stroke="#775011"/>
<polygon points="101.5,65.5 109.2,68.8 114.4,64.3 106.4,61.1" fill="#ca701c" stroke="#ca701c"/>
<polygon points="109.2,68.8 116.9,72 122.3,67.6 114.4,64.3" fill="#c96f1c" stroke="#c96f1c"/>
<polygon points="116.9,72 124.7,75.3 130.3,70.8 122.3,67.6" fill="#c66d1b" stroke="#c66d1b"/>
<polygon points="124.7,75.3 132.4,78.7 138.2,74.1 130.3,70.8" fill="#c26a1b" stroke="#c26a1b"/>
<polygon points="132.4,78.7 140.1,82.1 146.2,77.5 138.2,74.1" fill="#be661a" stroke="#be661a"/>
<polygon points="140.1,82.1 147.8,85.7 154.2,81.1 146.2,77.5" fill="#b76119" stroke="#b76119"/>
<polygon points="147.8,85.7 155.6,89.6 162.1,84.8 154.2,81.1" fill="#b05b18" stroke="#b05b18"/>
<polygon points="155.6,89.6 163.3,93.7 170.1,88.8 162.1,84.8" fill="#a75417" stroke="#a75417"/>
<polygon points="163.3,93.7 171,98.2 178,93.2 170.1,88.8" fill="#9d4c15" stroke="#9d4c15"/>
<polygon points="171,98.2 178.8,103.2 186,98 178,93.2" fill="#924414" stroke="#924414"/>
<polygon points="178.8,103.2 186.5,108.8 193.9,103.3 186,98" fill="#863a12" stroke="#863a12"/>
<polygon points="186.5,108.8 194.2,115.2 201.9,109.4 193.9,103.3" fill="#783110" stroke="#783110"/>
<polygon points="106.4,61.1 114.4,64.3 121.4,58.5 113.4,55" fill="#c03c19" stroke="#c03c19"/>
<polygon points="114.4,64.3 122.3,67.6 129.5,61.9 121.4,58.5" fill="#bf3b19" stroke="#bf3b19"/>
<polygon points="122.3,67.6 130.3,70.8 137.5,65.4 129.5,61.9" fill="#bc3a18" stroke="#bc3a18"/>
<polygon points="130.3,70.8 138.2,74.1 145.5,68.9 137.5,65.4" fill="#b93918" stroke="#b93918"/>
<polygon points="138.2,74.1 146.2,77.5 153.5,72.5 145.5,68.9" fill="#b43717" stroke="#b43717"/>
<polygon points="146.2,77.5 154.2,81.1 161.6,76.1 153.5,72.5" fill="#af3416" stroke="#af3416"/>
<polygon points="154.2,81.1 162.1,84.8 169.6,80 161.6,76.1" fill="#a83115" stroke="#a83115"/>
<polygon points="162.1,84.8 170.1,88.8 177.6,84 169.6,80" fill="#9f2d14" stroke="#9f2d14"/>
<polygon points="170.1,88.8 178,93.2 185.6,88.4 177.6,84" fill="#962813" stroke="#962813"/>
<polygon points="178,93.2 186,98 193.6,93 185.6,88.4" fill="#8c2411" stroke="#8c2411"/>
<polygon points="186,98 193.9,103.3 201.7,98.1 193.6,93" fill="#801f0f" stroke="#801f0f"/>
<polygon points="193.9,103.3 201.9,109.4 209.7,103.7 201.7,98.1" fill="#74190d" stroke="#74190d"/>
<polygon points="113.4,55 121.4,58.5 128.6,52.8 120.5,49.1" fill="#ba1e14" stroke="#ba1e14"/>
<polygon points="121.4,58.5 129.5,61.9 136.6,56.5 128.6,52.8" fill="#b91e14" stroke="#b91e14"/>
<polygon points="129.5,61.9 137.5,65.4 144.7,60.1 136.6,56.5" fill="#b71d14" stroke="#b71d14"/>
<polygon points="137.5,65.4 145.5,68.9 152.8,63.9 144.7,60.1" fill="#b31d13" stroke="#b31d13"/>
<polygon points="145.5,68.9 153.5,72.5 160.9,67.6 152.8,63.9" fill="#af1c13" stroke="#af1c13"/>
<polygon points="153.5,72.5 161.6,76.1 168.9,71.5 160.9,67.6" fill="#a91a12" stroke="#a91a12"/>
<polygon points="161.6,76.1 169.6,80 177,75.4 168.9,71.5" fill="#a21912" stroke="#a21912"/>
<polygon points="169.6,80 177.6,84 185.1,79.5 177,75.4" fill="#9a1711" stroke="#9a1711"/>
<polygon points="177.6,84 185.6,88.4 193.2,83.8 185.1,79.5" fill="#911510" stroke="#911510"/>
<polygon points="185.6,88.4 193.6,93 201.2,88.4 193.2,83.8" fill="#87130f" stroke="#87130f"/>
<polygon points="193.6,93 201.7,98.1 209.3,93.3 201.2,88.4" fill="#7c110e" stroke="#7c110e"/>
<polygon points="201.7,98.1 209.7,103.7 217.4,98.5 209.3,93.3" fill="#700f0c" stroke="#700f0c"/>
<polygon points="120.5,49.1 128.6,52.8 135.3,47.8 127.1,43.8" fill="#b41414" stroke="#b41414"/>
<polygon points="128.6,52.8 136.6,56.5 143.4,51.8 135.3,47.8" fill="#b31414" stroke="#b31414"/>
<polygon points="136.6,56.5 144.7,60.1 151.6,55.7 143.4,51.8" fill="#b11414" stroke="#b11414"/>
<polygon points="144.7,60.1 152.8,63.9 159.8,59.7 151.6,55.7" fill="#ad1313" stroke="#ad1313"/>
<polygon points="152.8,63.9 160.9,67.6 167.9,63.7 159.8,59.7" fill="#a91313" stroke="#a91313"/>
<polygon points="160.9,67.6 168.9,71.5 176.1,67.8 167.9,63.7" fill="#a31212" stroke="#a31212"/>
<polygon points="168.9,71.5 177,75.4 184.3,71.8 176.1,67.8" fill="#9c1111" stroke="#9c1111"/>
<polygon points="177,75.4 185.1,79.5 192.4,76 184.3,71.8" fill="#951010" stroke="#951010"/>
<polygon points="185.1,79.5 193.2,83.8 200.6,80.2 192.4,76" fill="#8c0f0f" stroke="#8c0f0f"/>
<polygon points="193.2,83.8 201.2,88.4 208.8,84.5 200.6,80.2" fill="#820d0d" stroke="#820d0d"/>
<polygon points="201.2,88.4 209.3,93.3 216.9,88.9 208.8,84.5" fill="#770c0c" stroke="#770c0c"/>
<polygon points="209.3,93.3 217.4,98.5 225.1,93.5 216.9,88.9" fill="#6b0a0a" stroke="#6b0a0a"/>
<polygon points="127.1,43.8 135.3,47.8 140.7,44.1 132.5,39.7" fill="#aa0f0f" stroke="#aa0f0f"/>
<polygon points="135.3,47.8 143.4,51.8 149,48.6 140.7,44.1" fill="#a90f0f" stroke="#a90f0f"/>
<polygon points="143.4,51.8 151.6,55.7 157.2,52.9 149,48.6" fill="#a60f0f" stroke="#a60f0f"/>
<polygon points="151.6,55.7 159.8,59.7 165.4,57.3 157.2,52.9" fill="#a30e0e" stroke="#a30e0e"/>
<polygon points="159.8,59.7 167.9,63.7 173.7,61.5 165.4,57.3" fill="#9e0e0e" stroke="#9e0e0e"/>
<polygon points="167.9,63.7 176.1,67.8 181.9,65.7 173.7,61.5" fill="#980d0d" stroke="#980d0d"/>
<polygon points="176.1,67.8 184.3,71.8 190.1,69.9 181.9,65.7" fill="#910c0c" stroke="#910c0c"/>
<polygon points="184.3,71.8 192.4,76 198.4,73.9 190.1,69.9" fill="#890c0c" stroke="#890c0c"/>
<polygon points="192.4,76 200.6,80.2 206.6,78 198.4,73.9" fill="#7f0b0b" stroke="#7f0b0b"/>
<polygon points="200.6,80.2 208.8,84.5 214.8,82 206.6,78" fill="#750a0a" stroke="#750a0a"/>
<polygon points="208.8,84.5 216.9,88.9 223.1,85.9 214.8,82" fill="#690808" stroke="#690808"/>
<polygon points="216.9,88.9 225.1,93.5 231.3,89.8 223.1,85.9" fill="#5d0707" stroke="#5d0707"/>
<polygon points="132.5,39.7 140.7,44.1 145.5,41.1 137.3,36.1" fill="#8c0a0a" stroke="#8c0a0a"/>
<polygon points="140.7,44.1 149,48.6 153.8,46 145.5,41.1" fill="#8b0a0a" stroke="#8b0a0a"/>
<polygon points="149,48.6 157.2,52.9 162,50.7 153.8,46" fill="#890a0a" stroke="#890a0a"/>
<polygon points="157.2,52.9 165.4,57.3 170.2,55.3 162,50.7" fill="#860a0a" stroke="#860a0a"/>
<polygon points="165.4,57.3 173.7,61.5 178.4,59.7 170.2,55.3" fill="#810909" stroke="#810909"/>
<polygon points="173.7,61.5 181.9,65.7 186.7,64.1 178.4,59.7" fill="#7c0909" stroke="#7c0909"/>
<polygon points="181.9,65.7 190.1,69.9 194.9,68.2 186.7,64.1" fill="#750909" stroke="#750909"/>
<polygon points="190.1,69.9 198.4,73.9 203.1,72.3 194.9,68.2" fill="#6e0808" stroke="#6e0808"/>
<polygon points="198.4,73.9 206.6,78 211.3,76.2 203.1,72.3" fill="#650707" stroke="#650707"/>
<polygon points="206.6,78 214.8,82 219.6,79.9 211.3,76.2" fill="#5c0707" stroke="#5c0707"/>
<polygon points="214.8,82 223.1,85.9 227.8,83.5 219.6,79.9" fill="#510606" stroke="#510606"/>
<polygon points="223.1,85.9 231.3,89.8 236,87 227.8,83.5" fill="#470505" stroke="#470505"/>
<polygon points="137.3,36.1 145.5,41.1 150.2,38.1 142.2,32.6" fill="#640808" stroke="#640808"/>
<polygon points="145.5,41.1 153.8,46 158.3,43.3 150.2,38.1" fill="#630808" stroke="#630808"/>
<polygon points="153.8,46 162,50.7 166.3,48.4 158.3,43.3" fill="#620808" stroke="#620808"/>
<polygon points="162,50.7 170.2,55.3 174.3,53.3 166.3,48.4" fill="#5f0808" stroke="#5f0808"/>
<polygon points="170.2,55.3 178.4,59.7 182.4,58 174.3,53.3" fill="#5c0707" stroke="#5c0707"/>
<polygon points="178.4,59.7 186.7,64.1 190.4,62.6 182.4,58" fill="#570707" stroke="#570707"/>
<polygon points="186.7,64.1 194.9,68.2 198.4,66.9 190.4,62.6" fill="#520707" stroke="#520707"/>
<polygon points="194.9,68.2 203.1,72.3 206.5,71 198.4,66.9" fill="#4b0606" stroke="#4b0606"/>
<polygon points="203.1,72.3 211.3,76.2 214.5,74.9 206.5,71" fill="#440606" stroke="#440606"/>
<polygon points="211.3,76.2 219.6,79.9 222.5,78.7 214.5,74.9" fill="#3d0505" stroke="#3d0505"/>
<polygon points="219.6,79.9 227.8,83.5 230.6,82.2 222.5,78.7" fill="#350404" stroke="#350404"/>
<polygon points="227.8,83.5 236,87 238.6,85.6 230.6,82.2" fill="#2c0404" stroke="#2c0404"/>
<polygon points="142.2,32.6 150.2,38.1 156,35 148.4,28.3" fill="#370505" stroke="#370505"/>
<polygon points="150.2,38.1 158.3,43.3 163.7,41.4 156,35" fill="#370505" stroke="#370505"/>
<polygon points="158.3,43.3 166.3,48.4 171.3,47.4 163.7,41.4" fill="#360505" stroke="#360505"/>
<polygon points="166.3,48.4 174.3,53.3 179,53 171.3,47.4" fill="#350505" stroke="#350505"/>
<polygon points="174.3,53.3 182.4,58 186.6,58.2 179,53" fill="#340505" stroke="#340505"/>
<polygon points="182.4,58 190.4,62.6 194.3,63.1 186.6,58.2" fill="#320505" stroke="#320505"/>
<polygon points="190.4,62.6 198.4,66.9 201.9,67.6 194.3,63.1" fill="#300404" stroke="#300404"/>
<polygon points="198.4,66.9 206.5,71 209.5,71.8 201.9,67.6" fill="#2e0404" stroke="#2e0404"/>
<polygon points="206.5,71 214.5,74.9 217.2,75.6 209.5,71.8" fill="#2b0404" stroke="#2b0404"/>
<polygon points="214.5,74.9 222.5,78.7 224.8,79 217.2,75.6" fill="#290404" stroke="#290404"/>
<polygon points="222.5,78.7 230.6,82.2 232.5,82 224.8,79" fill="#250303" stroke="#250303"/>
<polygon points="230.6,82.2 238.6,85.6 240.1,84.7 232.5,82" fill="#220303" stroke="#220303"/>
<path d="M32.5 142L42.3 130L52 118.4L61.7 107.4L71.4 96.8L81.2 86.7L90.9 77L100.6 67.8L110.3 59.1L120.1 50.9L129.8 43.1L139.5 35.8L149.2 29M33.4 142.7L43.1 130.7L52.8 119.2L62.5 108.1L72.3 97.5L82 87.4L91.7 77.7L101.4 68.6L111.2 59.9L120.9 51.6L130.6 43.9L140.3 36.6L150.1 29.8M34.2 143.4L43.9 131.4L53.7 119.9L63.4 108.8L73.1 98.2L82.8 88.1L92.6 78.5L102.3 69.3L112 60.6L121.7 52.4L131.5 44.6L141.2 37.3L150.9 30.5M35 144.1L44.8 132.1L54.5 120.6L64.2 109.5L73.9 98.9L83.7 88.8L93.4 79.2L103.1 70L112.8 61.3L122.6 53.1L132.3 45.3L142 38.1L151.7 31.3M35.9 144.8L45.6 132.8L55.3 121.3L65 110.2L74.8 99.6L84.5 89.5L94.2 79.9L103.9 70.7L113.7 62L123.4 53.8L133.1 46.1L142.8 38.8L152.6 32M36.7 145.5L46.4 133.5L56.2 122L65.9 110.9L75.6 100.3L85.3 90.2L95.1 80.6L104.8 71.4L114.5 62.8L124.2 54.5L134 46.8L143.7 39.5L153.4 32.7M37.5 146.2L47.3 134.2L57 122.6L66.7 111.6L76.4 101L86.2 90.9L95.9 81.3L105.6 72.1L115.3 63.5L125.1 55.2L134.8 47.5L144.5 40.2L154.2 33.4M38.4 146.8L48.1 134.8L57.8 123.3L67.5 112.3L77.3 101.7L87 91.6L96.7 82L106.4 72.8L116.2 64.2L125.9 56L135.6 48.2L145.3 41L155.1 34.2M39.2 147.5L48.9 135.5L58.7 124L68.4 113L78.1 102.4L87.8 92.3L97.6 82.7L107.3 73.5L117 64.9L126.7 56.7L136.5 48.9L146.2 41.7L155.9 34.9M40 148.2L49.8 136.2L59.5 124.7L69.2 113.6L78.9 103.1L88.7 93L98.4 83.4L108.1 74.2L117.8 65.6L127.6 57.4L137.3 49.6L147 42.4L156.7 35.6M40.9 148.8L50.6 136.8L60.3 125.3L70 114.3L79.8 103.8L89.5 93.7L99.2 84.1L108.9 74.9L118.7 66.3L128.4 58.1L138.1 50.3L147.8 43.1L157.6 36.3M41.7 149.5L51.4 137.5L61.2 126L70.9 115L80.6 104.4L90.3 94.3L100.1 84.7L109.8 75.6L119.5 66.9L129.2 58.7L139 51L148.7 43.8L158.4 37M42.5 150.1L52.3 138.1L62 126.6L71.7 115.6L81.4 105.1L91.2 95L100.9 85.4L110.6 76.3L120.3 67.6L130.1 59.4L139.8 51.7L149.5 44.5L159.2 37.7M43.4 150.7L53.1 138.8L62.8 127.3L72.5 116.3L82.3 105.7L92 95.7L101.7 86.1L111.4 76.9L121.2 68.3L130.9 60.1L140.6 52.4L150.3 45.2L160.1 38.4M44.2 151.4L53.9 139.4L63.7 127.9L73.4 116.9L83.1 106.4L92.8 96.3L102.6 86.7L112.3 77.6L122 69L131.7 60.8L141.5 53.1L151.2 45.9L160.9 39.1M45 152L54.8 140L64.5 128.6L74.2 117.6L83.9 107L93.7 97L103.4 87.4L113.1 78.3L122.8 69.6L132.6 61.5L142.3 53.8L152 46.5L161.7 39.8M45.9 152.6L55.6 140.7L65.3 129.2L75 118.2L84.8 107.7L94.5 97.6L104.2 88L113.9 78.9L123.7 70.3L133.4 62.1L143.1 54.4L152.8 47.2L162.6 40.5M46.7 153.2L56.4 141.3L66.2 129.8L75.9 118.8L85.6 108.3L95.3 98.3L105.1 88.7L114.8 79.6L124.5 70.9L134.2 62.8L144 55.1L153.7 47.9L163.4 41.1M47.5 153.8L57.3 141.9L67 130.4L76.7 119.4L86.4 108.9L96.2 98.9L105.9 89.3L115.6 80.2L125.3 71.6L135.1 63.4L144.8 55.8L154.5 48.5L164.2 41.8M48.4 154.4L58.1 142.5L67.8 131L77.5 120.1L87.3 109.6L97 99.5L106.7 90L116.4 80.9L126.2 72.2L135.9 64.1L145.6 56.4L155.3 49.2L165.1 42.5M49.2 155L58.9 143.1L68.7 131.6L78.4 120.7L88.1 110.2L97.8 100.1L107.6 90.6L117.3 81.5L127 72.9L136.7 64.7L146.5 57.1L156.2 49.9L165.9 43.1M50 155.6L59.8 143.7L69.5 132.2L79.2 121.3L88.9 110.8L98.7 100.8L108.4 91.2L118.1 82.1L127.8 73.5L137.6 65.4L147.3 57.7L157 50.5L166.7 43.8M50.9 156.2L60.6 144.3L70.3 132.8L80 121.9L89.8 111.4L99.5 101.4L109.2 91.8L118.9 82.7L128.7 74.1L138.4 66L148.1 58.4L157.8 51.2L167.6 44.5M51.7 156.8L61.4 144.9L71.2 133.4L80.9 122.5L90.6 112L100.3 102L110.1 92.4L119.8 83.4L129.5 74.8L139.2 66.6L149 59L158.7 51.8L168.4 45.1M52.5 157.3L62.3 145.4L72 134L81.7 123.1L91.4 112.6L101.2 102.6L110.9 93L120.6 84L130.3 75.4L140.1 67.3L149.8 59.6L159.5 52.5L169.2 45.8M53.4 157.9L63.1 146L72.8 134.6L82.5 123.6L92.3 113.2L102 103.2L111.7 93.6L121.4 84.6L131.2 76L140.9 67.9L150.6 60.3L160.3 53.1L170.1 46.4M54.2 158.4L63.9 146.6L73.7 135.2L83.4 124.2L93.1 113.8L102.8 103.8L112.6 94.2L122.3 85.2L132 76.6L141.7 68.5L151.5 60.9L161.2 53.7L170.9 47M55 159L64.8 147.1L74.5 135.7L84.2 124.8L93.9 114.3L103.7 104.3L113.4 94.8L123.1 85.8L132.8 77.2L142.6 69.1L152.3 61.5L162 54.3L171.7 47.7M55.9 159.5L65.6 147.7L75.3 136.3L85.1 125.4L94.8 114.9L104.5 104.9L114.2 95.4L124 86.4L133.7 77.8L143.4 69.7L153.1 62.1L162.9 55L172.6 48.3M56.7 160.1L66.4 148.2L76.2 136.8L85.9 125.9L95.6 115.5L105.3 105.5L115.1 96L124.8 87L134.5 78.4L144.2 70.3L154 62.7L163.7 55.6L173.4 48.9M57.5 160.6L67.3 148.7L77 137.4L86.7 126.5L96.4 116L106.2 106.1L115.9 96.6L125.6 87.6L135.3 79L145.1 70.9L154.8 63.3L164.5 56.2L174.2 49.5M58.4 161.1L68.1 149.3L77.8 137.9L87.6 127L97.3 116.6L107 106.6L116.7 97.1L126.5 88.1L136.2 79.6L145.9 71.5L155.6 63.9L165.4 56.8L175.1 50.2M59.2 161.6L68.9 149.8L78.7 138.4L88.4 127.6L98.1 117.1L107.8 107.2L117.6 97.7L127.3 88.7L137 80.2L146.7 72.1L156.5 64.5L166.2 57.4L175.9 50.8M60 162.2L69.8 150.3L79.5 139L89.2 128.1L98.9 117.7L108.7 107.7L118.4 98.3L128.1 89.3L137.8 80.7L147.6 72.7L157.3 65.1L167 58L176.7 51.4M60.9 162.7L70.6 150.8L80.3 139.5L90.1 128.6L99.8 118.2L109.5 108.3L119.2 98.8L129 89.8L138.7 81.3L148.4 73.3L158.1 65.7L167.9 58.6L177.6 52M61.7 163.2L71.4 151.3L81.2 140L90.9 129.1L100.6 118.7L110.3 108.8L120.1 99.4L129.8 90.4L139.5 81.9L149.2 73.9L159 66.3L168.7 59.2L178.4 52.6M62.5 163.7L72.3 151.8L82 140.5L91.7 129.7L101.4 119.3L111.2 109.4L120.9 99.9L130.6 90.9L140.3 82.4L150.1 74.4L159.8 66.9L169.5 59.8L179.2 53.2M63.4 164.1L73.1 152.3L82.8 141L92.6 130.2L102.3 119.8L112 109.9L121.7 100.5L131.5 91.5L141.2 83L150.9 75L160.6 67.4L170.4 60.4L180.1 53.8M64.2 164.6L73.9 152.8L83.7 141.5L93.4 130.7L103.1 120.3L112.8 110.4L122.6 101L132.3 92L142 83.6L151.7 75.5L161.5 68L171.2 60.9L180.9 54.4M65 165.1L74.8 153.3L84.5 142L94.2 131.2L103.9 120.8L113.7 110.9L123.4 101.5L133.1 92.6L142.8 84.1L152.6 76.1L162.3 68.6L172 61.5L181.7 54.9M65.9 165.6L75.6 153.8L85.3 142.5L95.1 131.7L104.8 121.3L114.5 111.4L124.2 102L134 93.1L143.7 84.6L153.4 76.6L163.1 69.1L172.9 62.1L182.6 55.5M66.7 166L76.4 154.3L86.2 143L95.9 132.2L105.6 121.8L115.3 112L125.1 102.6L134.8 93.6L144.5 85.2L154.2 77.2L164 69.7L173.7 62.6L183.4 56.1M67.5 166.5L77.3 154.7L87 143.5L96.7 132.6L106.4 122.3L116.2 112.5L125.9 103.1L135.6 94.1L145.3 85.7L155.1 77.7L164.8 70.2L174.5 63.2L184.2 56.6M68.4 166.9L78.1 155.2L87.8 143.9L97.6 133.1L107.3 122.8L117 113L126.7 103.6L136.5 94.7L146.2 86.2L155.9 78.3L165.6 70.8L175.4 63.8L185.1 57.2M69.2 167.4L78.9 155.6L88.7 144.4L98.4 133.6L108.1 123.3L117.8 113.4L127.6 104.1L137.3 95.2L147 86.7L156.7 78.8L166.5 71.3L176.2 64.3L185.9 57.8M70 167.8L79.8 156.1L89.5 144.8L99.2 134.1L108.9 123.8L118.7 113.9L128.4 104.6L138.1 95.7L147.8 87.3L157.6 79.3L167.3 71.9L177 64.9L186.7 58.3M70.9 168.2L80.6 156.5L90.3 145.3L100.1 134.5L109.8 124.2L119.5 114.4L129.2 105.1L139 96.2L148.7 87.8L158.4 79.8L168.1 72.4L177.9 65.4L187.6 58.9M71.7 168.7L81.4 157L91.2 145.7L100.9 135L110.6 124.7L120.3 114.9L130.1 105.5L139.8 96.7L149.5 88.3L159.2 80.4L169 72.9L178.7 65.9L188.4 59.4M72.5 169.1L82.3 157.4L92 146.2L101.7 135.4L111.4 125.2L121.2 115.4L130.9 106L140.6 97.2L150.3 88.8L160.1 80.9L169.8 73.4L179.5 66.5L189.2 60M73.4 169.5L83.1 157.8L92.8 146.6L102.6 135.9L112.3 125.6L122 115.8L131.7 106.5L141.5 97.7L151.2 89.3L160.9 81.4L170.6 73.9L180.4 67L190.1 60.5M74.2 169.9L83.9 158.2L93.7 147L103.4 136.3L113.1 126.1L122.8 116.3L132.6 107L142.3 98.1L152 89.8L161.7 81.9L171.5 74.5L181.2 67.5L190.9 61M75 170.3L84.8 158.6L94.5 147.5L104.2 136.7L113.9 126.5L123.7 116.7L133.4 107.4L143.1 98.6L152.8 90.3L162.6 82.4L172.3 75L182 68L191.7 61.6M75.9 170.7L85.6 159L95.3 147.9L105.1 137.2L114.8 126.9L124.5 117.2L134.2 107.9L144 99.1L153.7 90.7L163.4 82.9L173.1 75.5L182.9 68.5L192.6 62.1M76.7 171.1L86.4 159.4L96.2 148.3L105.9 137.6L115.6 127.4L125.3 117.6L135.1 108.3L144.8 99.5L154.5 91.2L164.2 83.4L174 76L183.7 69L193.4 62.6M77.6 171.5L87.3 159.8L97 148.7L106.7 138L116.5 127.8L126.2 118.1L135.9 108.8L145.6 100L155.3 91.7L165.1 83.8L174.8 76.5L184.5 69.6L194.3 63.1M78.4 171.8L88.1 160.2L97.8 149.1L107.6 138.4L117.3 128.2L127 118.5L136.7 109.2L146.5 100.5L156.2 92.1L165.9 84.3L175.6 76.9L185.4 70.1L195.1 63.6M79.2 172.2L88.9 160.6L98.7 149.5L108.4 138.8L118.1 128.6L127.8 118.9L137.6 109.7L147.3 100.9L157 92.6L166.7 84.8L176.5 77.4L186.2 70.5L195.9 64.1M80.1 172.6L89.8 161L99.5 149.9L109.2 139.2L119 129L128.7 119.3L138.4 110.1L148.1 101.3L157.9 93.1L167.6 85.2L177.3 77.9L187 71L196.8 64.6M80.9 172.9L90.6 161.4L100.3 150.2L110.1 139.6L119.8 129.4L129.5 119.8L139.2 110.5L149 101.8L158.7 93.5L168.4 85.7L178.1 78.4L187.9 71.5L197.6 65.1M81.7 173.3L91.4 161.7L101.2 150.6L110.9 140L120.6 129.8L130.3 120.2L140.1 111L149.8 102.2L159.5 94L169.2 86.2L179 78.9L188.7 72L198.4 65.6M82.6 173.6L92.3 162.1L102 151L111.7 140.4L121.5 130.2L131.2 120.6L140.9 111.4L150.6 102.7L160.4 94.4L170.1 86.6L179.8 79.3L189.5 72.5L199.3 66.1M83.4 174L93.1 162.4L102.8 151.3L112.6 140.7L122.3 130.6L132 121L141.7 111.8L151.5 103.1L161.2 94.8L170.9 87.1L180.6 79.8L190.4 73L200.1 66.6M84.2 174.3L93.9 162.8L103.7 151.7L113.4 141.1L123.1 131L132.8 121.4L142.6 112.2L152.3 103.5L162 95.3L171.7 87.5L181.5 80.2L191.2 73.4L200.9 67.1M85.1 174.6L94.8 163.1L104.5 152.1L114.2 141.5L124 131.4L133.7 121.7L143.4 112.6L153.1 103.9L162.9 95.7L172.6 88L182.3 80.7L192 73.9L201.8 67.6M85.9 174.9L95.6 163.4L105.3 152.4L115.1 141.8L124.8 131.7L134.5 122.1L144.2 113L154 104.3L163.7 96.1L173.4 88.4L183.1 81.1L192.9 74.3L202.6 68M86.7 175.3L96.4 163.8L106.2 152.7L115.9 142.2L125.6 132.1L135.3 122.5L145.1 113.4L154.8 104.7L164.5 96.5L174.2 88.8L184 81.6L193.7 74.8L203.4 68.5M87.6 175.6L97.3 164.1L107 153.1L116.7 142.5L126.5 132.5L136.2 122.9L145.9 113.8L155.6 105.1L165.4 96.9L175.1 89.2L184.8 82L194.5 75.2L204.3 69M88.4 175.9L98.1 164.4L107.8 153.4L117.6 142.9L127.3 132.8L137 123.2L146.7 114.1L156.5 105.5L166.2 97.3L175.9 89.7L185.6 82.4L195.4 75.7L205.1 69.4M89.2 176.2L98.9 164.7L108.7 153.7L118.4 143.2L128.1 133.2L137.8 123.6L147.6 114.5L157.3 105.9L167 97.7L176.7 90.1L186.5 82.9L196.2 76.1L205.9 69.9M90.1 176.4L99.8 165L109.5 154L119.2 143.5L129 133.5L138.7 124L148.4 114.9L158.1 106.3L167.9 98.1L177.6 90.5L187.3 83.3L197 76.6L206.8 70.3M90.9 176.7L100.6 165.3L110.3 154.3L120.1 143.9L129.8 133.9L139.5 124.3L149.2 115.2L159 106.7L168.7 98.5L178.4 90.9L188.1 83.7L197.9 77L207.6 70.8M91.7 177L101.4 165.6L111.2 154.6L120.9 144.2L130.6 134.2L140.3 124.7L150.1 115.6L159.8 107L169.5 98.9L179.2 91.3L189 84.1L198.7 77.4L208.4 71.2M92.6 177.3L102.3 165.9L112 154.9L121.7 144.5L131.5 134.5L141.2 125L150.9 116L160.6 107.4L170.4 99.3L180.1 91.7L189.8 84.5L199.5 77.9L209.3 71.6M93.4 177.5L103.1 166.1L112.8 155.2L122.6 144.8L132.3 134.8L142 125.3L151.7 116.3L161.5 107.8L171.2 99.7L180.9 92.1L190.6 84.9L200.4 78.3L210.1 72.1M94.2 177.8L103.9 166.4L113.7 155.5L123.4 145.1L133.1 135.1L142.8 125.7L152.6 116.6L162.3 108.1L172 100L181.7 92.5L191.5 85.3L201.2 78.7L210.9 72.5M95.1 178L104.8 166.7L114.5 155.8L124.2 145.4L134 135.4L143.7 126L153.4 117L163.1 108.5L172.9 100.4L182.6 92.8L192.3 85.7L202 79.1L211.8 72.9M95.9 178.3L105.6 166.9L115.3 156.1L125.1 145.7L134.8 135.8L144.5 126.3L154.2 117.3L164 108.8L173.7 100.8L183.4 93.2L193.1 86.1L202.9 79.5L212.6 73.4M96.7 178.5L106.4 167.2L116.2 156.3L125.9 146L135.6 136L145.3 126.6L155.1 117.6L164.8 109.2L174.5 101.1L184.2 93.6L194 86.5L203.7 79.9L213.4 73.8M97.6 178.8L107.3 167.4L117 156.6L126.7 146.2L136.5 136.3L146.2 126.9L155.9 118L165.6 109.5L175.4 101.5L185.1 93.9L194.8 86.9L204.5 80.3L214.3 74.2M98.4 179L108.1 167.7L117.8 156.9L127.6 146.5L137.3 136.6L147 127.2L156.7 118.3L166.5 109.8L176.2 101.8L185.9 94.3L195.6 87.3L205.4 80.7L215.1 74.6M99.2 179.2L108.9 167.9L118.7 157.1L128.4 146.8L138.1 136.9L147.8 127.5L157.6 118.6L167.3 110.1L177 102.2L186.7 94.7L196.5 87.6L206.2 81.1L215.9 75M100.1 179.4L109.8 168.1L119.5 157.4L129.2 147L139 137.2L148.7 127.8L158.4 118.9L168.1 110.5L177.9 102.5L187.6 95L197.3 88L207 81.5L216.8 75.4M100.9 179.6L110.6 168.4L120.3 157.6L130.1 147.3L139.8 137.5L149.5 128.1L159.2 119.2L169 110.8L178.7 102.8L188.4 95.4L198.1 88.4L207.9 81.8L217.6 75.8M101.7 179.8L111.5 168.6L121.2 157.8L130.9 147.5L140.6 137.7L150.4 128.4L160.1 119.5L169.8 111.1L179.5 103.2L189.3 95.7L199 88.7L208.7 82.2L218.4 76.2M102.6 180L112.3 168.8L122 158.1L131.7 147.8L141.5 138L151.2 128.6L160.9 119.8L170.6 111.4L180.4 103.5L190.1 96L199.8 89.1L209.5 82.6L219.3 76.5M103.4 180.2L113.1 169L122.8 158.3L132.6 148L142.3 138.2L152 128.9L161.7 120.1L171.5 111.7L181.2 103.8L190.9 96.4L200.6 89.4L210.4 82.9L220.1 76.9M104.2 180.4L114 169.2L123.7 158.5L133.4 148.2L143.1 138.5L152.9 129.2L162.6 120.3L172.3 112L182 104.1L191.8 96.7L201.5 89.8L211.2 83.3L220.9 77.3M105.1 180.6L114.8 169.4L124.5 158.7L134.2 148.5L144 138.7L153.7 129.4L163.4 120.6L173.1 112.3L182.9 104.4L192.6 97L202.3 90.1L212 83.6L221.8 77.7M105.9 180.7L115.6 169.6L125.3 158.9L135.1 148.7L144.8 138.9L154.5 129.7L164.2 120.9L174 112.6L183.7 104.7L193.4 97.3L203.1 90.4L212.9 84L222.6 78M106.7 180.9L116.5 169.8L126.2 159.1L135.9 148.9L145.6 139.2L155.4 129.9L165.1 121.2L174.8 112.8L184.5 105L194.3 97.7L204 90.8L213.7 84.3L223.4 78.4M107.6 181.1L117.3 169.9L127 159.3L136.7 149.1L146.5 139.4L156.2 130.2L165.9 121.4L175.6 113.1L185.4 105.3L195.1 98L204.8 91.1L214.5 84.7L224.3 78.8M108.4 181.2L118.1 170.1L127.8 159.5L137.6 149.3L147.3 139.6L157 130.4L166.7 121.7L176.5 113.4L186.2 105.6L195.9 98.3L205.6 91.4L215.4 85L225.1 79.1M109.2 181.4L119 170.3L128.7 159.7L138.4 149.5L148.1 139.8L157.9 130.6L167.6 121.9L177.3 113.7L187 105.9L196.8 98.6L206.5 91.7L216.2 85.4L225.9 79.5M110.1 181.5L119.8 170.4L129.5 159.8L139.2 149.7L149 140L158.7 130.9L168.4 122.2L178.1 113.9L187.9 106.1L197.6 98.9L207.3 92L217 85.7L226.8 79.8M110.9 181.6L120.6 170.6L130.3 160L140.1 149.9L149.8 140.2L159.5 131.1L169.2 122.4L179 114.2L188.7 106.4L198.4 99.1L208.1 92.3L217.9 86L227.6 80.1M111.7 181.8L121.5 170.7L131.2 160.2L140.9 150.1L150.6 140.4L160.4 131.3L170.1 122.6L179.8 114.4L189.5 106.7L199.3 99.4L209 92.6L218.7 86.3L228.4 80.5M112.6 181.9L122.3 170.9L132 160.3L141.7 150.2L151.5 140.6L161.2 131.5L170.9 122.8L180.6 114.7L190.4 106.9L200.1 99.7L209.8 92.9L219.5 86.6L229.3 80.8M113.4 182L123.1 171L132.8 160.5L142.6 150.4L152.3 140.8L162 131.7L171.7 123.1L181.5 114.9L191.2 107.2L200.9 100L210.6 93.2L220.4 86.9L230.1 81.1M114.2 182.1L124 171.1L133.7 160.6L143.4 150.6L153.1 141L162.9 131.9L172.6 123.3L182.3 115.1L192 107.5L201.8 100.2L211.5 93.5L221.2 87.3L230.9 81.5M115.1 182.2L124.8 171.2L134.5 160.7L144.2 150.7L154 141.2L163.7 132.1L173.4 123.5L183.1 115.4L192.9 107.7L202.6 100.5L212.3 93.8L222 87.6L231.8 81.8M115.9 182.3L125.6 171.3L135.3 160.9L145.1 150.9L154.8 141.3L164.5 132.3L174.2 123.7L184 115.6L193.7 107.9L203.4 100.8L213.1 94.1L222.9 87.8L232.6 82.1M116.7 182.4L126.5 171.5L136.2 161L145.9 151L155.6 141.5L165.4 132.5L175.1 123.9L184.8 115.8L194.5 108.2L204.3 101L214 94.3L223.7 88.1L233.4 82.4M117.6 182.5L127.3 171.6L137 161.1L146.7 151.2L156.5 141.7L166.2 132.6L175.9 124.1L185.6 116L195.4 108.4L205.1 101.3L214.8 94.6L224.5 88.4L234.3 82.7M118.4 182.5L128.1 171.7L137.8 161.2L147.6 151.3L157.3 141.8L167 132.8L176.7 124.3L186.5 116.2L196.2 108.6L205.9 101.5L215.6 94.9L225.4 88.7L235.1 83M119.2 182.6L129 171.7L138.7 161.3L148.4 151.4L158.1 142L167.9 133L177.6 124.5L187.3 116.4L197 108.9L206.8 101.8L216.5 95.1L226.2 89L235.9 83.3M120.1 182.7L129.8 171.8L139.5 161.4L149.2 151.5L159 142.1L168.7 133.1L178.4 124.6L188.1 116.6L197.9 109.1L207.6 102L217.3 95.4L227 89.3L236.8 83.6M120.9 182.7L130.6 171.9L140.3 161.5L150.1 151.7L159.8 142.2L169.5 133.3L179.2 124.8L189 116.8L198.7 109.3L208.4 102.2L218.1 95.6L227.9 89.5L237.6 83.9M121.7 182.8L131.5 172L141.2 161.6L150.9 151.8L160.6 142.4L170.4 133.4L180.1 125L189.8 117L199.5 109.5L209.3 102.5L219 95.9L228.7 89.8L238.4 84.2M122.6 182.8L132.3 172L142 161.7L151.7 151.9L161.5 142.5L171.2 133.6L180.9 125.1L190.6 117.2L200.4 109.7L210.1 102.7L219.8 96.1L229.5 90.1L239.3 84.4" stroke="#000" stroke-opacity="0.22" stroke-width="0.45" fill="none"/>
<ellipse cx="113" cy="128" rx="34" ry="15" transform="rotate(27 113 128)" fill="url(#hl)"/>
<path d="M34.7 137.5L38.6 139.7L42.6 141.9L46.5 143.9L50.4 146L54.3 148L58.2 149.9L62.2 151.8L66.1 153.7L70 155.5L74 157.3L77.9 159L81.8 160.6L85.7 162.2L89.7 163.8L93.6 165.3L97.5 166.8L101.4 168.2L105.4 169.5L109.3 170.9L113.2 172.1L117.1 173.4L121 174.5L125 175.7L128.9 176.7M39.1 132.1L43 134.3L47 136.5L50.9 138.6L54.8 140.6L58.8 142.6L62.7 144.6L66.6 146.5L70.6 148.4L74.5 150.2L78.4 152L82.4 153.7L86.3 155.4L90.2 157L94.2 158.6L98.1 160.1L102 161.6L106 163L109.9 164.4L113.8 165.8L117.8 167L121.7 168.3L125.6 169.5L129.6 170.6L133.5 171.7M43.4 126.9L47.3 128.9L51.3 130.8L55.2 132.7L59.2 134.6L63.1 136.5L67.1 138.3L71 140.1L75 141.9L78.9 143.7L82.9 145.4L86.8 147.1L90.8 148.8L94.7 150.4L98.7 152L102.6 153.6L106.6 155.2L110.5 156.7L114.5 158.2L118.4 159.7L122.4 161.1L126.3 162.6L130.3 164L134.2 165.3L138.2 166.7M47.8 121.6L51.8 123.4L55.7 125.1L59.7 126.9L63.6 128.6L67.6 130.3L71.6 132L75.5 133.7L79.5 135.5L83.5 137.1L87.4 138.8L91.4 140.5L95.3 142.2L99.3 143.9L103.3 145.5L107.2 147.2L111.2 148.8L115.2 150.5L119.1 152.1L123.1 153.7L127.1 155.3L131 157L135 158.6L138.9 160.2L142.9 161.7M52.9 115.7L56.8 117.4L60.7 119L64.6 120.7L68.5 122.3L72.5 124L76.4 125.7L80.3 127.4L84.2 129L88.1 130.7L92 132.4L95.9 134.1L99.8 135.8L103.8 137.5L107.7 139.2L111.6 141L115.5 142.7L119.4 144.5L123.3 146.3L127.2 148.1L131.2 150L135.1 151.9L139 153.8L142.9 155.8L146.8 157.7M58.5 109.3L62.4 111L66.2 112.6L70.1 114.2L74 115.9L77.9 117.5L81.7 119.2L85.6 120.9L89.5 122.5L93.4 124.2L97.2 125.9L101.1 127.6L105 129.3L108.9 131.1L112.8 132.8L116.6 134.6L120.5 136.5L124.4 138.3L128.2 140.3L132.1 142.2L136 144.3L139.9 146.3L143.8 148.5L147.6 150.7L151.5 153M63.4 103.9L67.2 105.5L71.1 107.2L74.9 108.8L78.8 110.5L82.6 112.1L86.5 113.8L90.3 115.5L94.2 117.2L98 118.9L101.9 120.6L105.7 122.3L109.5 124.1L113.4 125.8L117.2 127.7L121.1 129.5L124.9 131.4L128.8 133.3L132.6 135.3L136.5 137.4L140.3 139.5L144.2 141.7L148 144L151.9 146.4L155.7 148.9M67.8 99.1L71.7 100.6L75.6 102.2L79.5 103.8L83.4 105.4L87.3 107L91.1 108.6L95 110.3L98.9 111.9L102.8 113.5L106.7 115.2L110.6 116.9L114.5 118.6L118.4 120.3L122.3 122.1L126.2 123.9L130.1 125.8L134 127.7L137.8 129.7L141.7 131.8L145.6 134L149.5 136.2L153.4 138.6L157.3 141.1L161.2 143.6M71.6 95L75.6 96.5L79.5 98L83.5 99.5L87.4 101L91.4 102.6L95.3 104.1L99.3 105.6L103.2 107.2L107.2 108.8L111.1 110.3L115.1 112L119.1 113.6L123 115.3L127 117L130.9 118.8L134.9 120.7L138.8 122.6L142.8 124.6L146.7 126.6L150.7 128.8L154.6 131.1L158.6 133.5L162.5 136L166.5 138.7M75.9 90.5L79.9 91.9L83.9 93.3L88 94.7L92 96.2L96 97.6L100 99L104 100.5L108.1 101.9L112.1 103.4L116.1 104.9L120.1 106.5L124.2 108L128.2 109.7L132.2 111.4L136.2 113.1L140.2 114.9L144.3 116.8L148.3 118.8L152.3 120.9L156.3 123.1L160.3 125.5L164.4 127.9L168.4 130.6L172.4 133.4M82.3 83.9L86.3 85.4L90.2 86.8L94.2 88.3L98.2 89.7L102.1 91.2L106.1 92.7L110.1 94.2L114 95.7L118 97.2L122 98.7L125.9 100.3L129.9 102L133.9 103.7L137.8 105.4L141.8 107.3L145.8 109.2L149.7 111.2L153.7 113.3L157.7 115.5L161.6 117.9L165.6 120.4L169.6 123L173.5 125.9L177.5 128.9M89 77.3L92.9 78.8L96.8 80.4L100.7 81.9L104.6 83.4L108.5 85L112.4 86.5L116.3 88.1L120.2 89.7L124.1 91.3L128 92.9L131.9 94.6L135.8 96.4L139.6 98.1L143.5 100L147.4 101.9L151.3 103.9L155.2 106L159.1 108.2L163 110.6L166.9 113.1L170.8 115.7L174.7 118.5L178.6 121.5L182.5 124.7M95.8 70.8L99.7 72.4L103.5 74L107.4 75.6L111.2 77.2L115.1 78.8L118.9 80.5L122.8 82.1L126.6 83.8L130.5 85.4L134.3 87.2L138.2 88.9L142.1 90.7L145.9 92.6L149.8 94.5L153.6 96.5L157.5 98.6L161.3 100.7L165.2 103L169 105.4L172.9 108L176.7 110.7L180.6 113.6L184.4 116.6L188.3 119.9M101.5 65.5L105.4 67.1L109.2 68.8L113.1 70.4L116.9 72L120.8 73.7L124.7 75.3L128.5 77L132.4 78.7L136.3 80.4L140.1 82.1L144 83.9L147.8 85.7L151.7 87.6L155.6 89.6L159.4 91.6L163.3 93.7L167.2 95.9L171 98.2L174.9 100.6L178.8 103.2L182.6 105.9L186.5 108.8L190.3 111.9L194.2 115.2M106.4 61.1L110.4 62.7L114.4 64.3L118.3 66L122.3 67.6L126.3 69.2L130.3 70.8L134.3 72.5L138.2 74.1L142.2 75.8L146.2 77.5L150.2 79.3L154.2 81.1L158.1 82.9L162.1 84.8L166.1 86.8L170.1 88.8L174 90.9L178 93.2L182 95.5L186 98L190 100.6L193.9 103.3L197.9 106.3L201.9 109.4M113.4 55L117.4 56.7L121.4 58.5L125.4 60.2L129.5 61.9L133.5 63.6L137.5 65.4L141.5 67.1L145.5 68.9L149.5 70.7L153.5 72.5L157.5 74.3L161.6 76.1L165.6 78L169.6 80L173.6 82L177.6 84L181.6 86.2L185.6 88.4L189.6 90.6L193.6 93L197.7 95.5L201.7 98.1L205.7 100.9L209.7 103.7M120.5 49.1L124.5 50.9L128.6 52.8L132.6 54.6L136.6 56.5L140.7 58.3L144.7 60.1L148.8 62L152.8 63.9L156.8 65.7L160.9 67.6L164.9 69.5L168.9 71.5L173 73.4L177 75.4L181.1 77.5L185.1 79.5L189.1 81.7L193.2 83.8L197.2 86.1L201.2 88.4L205.3 90.8L209.3 93.3L213.4 95.8L217.4 98.5M127.1 43.8L131.2 45.8L135.3 47.8L139.3 49.8L143.4 51.8L147.5 53.7L151.6 55.7L155.7 57.7L159.8 59.7L163.8 61.7L167.9 63.7L172 65.7L176.1 67.8L180.2 69.8L184.3 71.8L188.3 73.9L192.4 76L196.5 78.1L200.6 80.2L204.7 82.3L208.8 84.5L212.8 86.7L216.9 88.9L221 91.2L225.1 93.5M132.5 39.7L136.6 41.9L140.7 44.1L144.8 46.4L149 48.6L153.1 50.8L157.2 52.9L161.3 55.1L165.4 57.3L169.6 59.4L173.7 61.5L177.8 63.6L181.9 65.7L186 67.8L190.1 69.9L194.2 71.9L198.4 73.9L202.5 76L206.6 78L210.7 80L214.8 82L219 83.9L223.1 85.9L227.2 87.8L231.3 89.8M137.3 36.1L141.4 38.6L145.5 41.1L149.6 43.6L153.8 46L157.9 48.4L162 50.7L166.1 53L170.2 55.3L174.3 57.5L178.4 59.7L182.5 61.9L186.7 64.1L190.8 66.2L194.9 68.2L199 70.3L203.1 72.3L207.2 74.2L211.3 76.2L215.4 78.1L219.6 79.9L223.7 81.7L227.8 83.5L231.9 85.3L236 87M142.2 32.6L146.2 35.3L150.2 38.1L154.2 40.7L158.3 43.3L162.3 45.9L166.3 48.4L170.3 50.9L174.3 53.3L178.3 55.7L182.4 58L186.4 60.3L190.4 62.6L194.4 64.7L198.4 66.9L202.4 69L206.5 71L210.5 73L214.5 74.9L218.5 76.8L222.5 78.7L226.6 80.5L230.6 82.2L234.6 83.9L238.6 85.6" stroke="#000" stroke-width="1.1" fill="none"/>
</g>
<polygon points="31.7,141.3 33.2,142.6 34.8,143.9 36.3,145.1 37.8,146.4 39.3,147.6 40.9,148.8 42.4,150 43.9,151.2 45.5,152.3 47,153.4 48.5,154.5 50,155.6 51.6,156.7 53.1,157.7 54.6,158.7 56.2,159.7 57.7,160.7 59.2,161.6 60.7,162.6 62.3,163.5 63.8,164.4 65.3,165.3 66.9,166.1 68.4,166.9 69.9,167.7 71.4,168.5 73,169.3 74.5,170 76,170.8 77.6,171.5 79.1,172.1 80.6,172.8 82.1,173.5 83.7,174.1 85.2,174.7 86.7,175.3 88.2,175.8 89.8,176.3 91.3,176.9 92.8,177.4 94.4,177.8 95.9,178.3 97.4,178.7 98.9,179.1 100.5,179.5 102,179.9 103.5,180.2 105.1,180.6 106.6,180.9 108.1,181.2 109.6,181.4 111.2,181.7 112.7,181.9 114.2,182.1 115.8,182.3 117.3,182.4 118.8,182.6 120.3,182.7 121.9,182.8 123.4,182.9 123.4,182.9 125.3,180.7 127.3,178.5 129.2,176.4 131.2,174.2 133.1,172.1 135.1,170 137,167.9 139,165.9 140.9,163.8 142.8,161.8 144.8,159.8 146.7,157.8 148.7,155.8 150.6,153.9 152.6,152 154.5,150.1 156.5,148.2 158.4,146.3 160.4,144.4 162.3,142.6 164.2,140.8 166.2,139 168.1,137.2 170.1,135.5 172,133.7 174,132 175.9,130.3 177.9,128.6 179.8,126.9 181.8,125.3 183.7,123.7 185.6,122.1 187.6,120.5 189.5,118.9 191.5,117.4 193.4,115.8 195.4,114.3 197.3,112.8 199.3,111.3 201.2,109.9 203.1,108.4 205.1,107 207,105.6 209,104.2 210.9,102.9 212.9,101.5 214.8,100.2 216.8,98.9 218.7,97.6 220.7,96.4 222.6,95.1 224.5,93.9 226.5,92.7 228.4,91.5 230.4,90.3 232.3,89.2 234.3,88 236.2,86.9 238.2,85.8 240.1,84.7 240.1,84.7 238.6,84.2 237,83.7 235.5,83.2 234,82.6 232.5,82 230.9,81.5 229.4,80.9 227.9,80.3 226.3,79.6 224.8,79 223.3,78.3 221.8,77.7 220.2,77 218.7,76.3 217.2,75.6 215.6,74.9 214.1,74.1 212.6,73.4 211.1,72.6 209.5,71.8 208,71 206.5,70.2 204.9,69.3 203.4,68.5 201.9,67.6 200.4,66.8 198.8,65.9 197.3,65 195.8,64.1 194.3,63.1 192.7,62.2 191.2,61.2 189.7,60.2 188.1,59.2 186.6,58.2 185.1,57.2 183.6,56.2 182,55.1 180.5,54.1 179,53 177.4,51.9 175.9,50.8 174.4,49.6 172.9,48.5 171.3,47.4 169.8,46.2 168.3,45 166.7,43.8 165.2,42.6 163.7,41.4 162.2,40.1 160.6,38.9 159.1,37.6 157.6,36.3 156,35 154.5,33.7 153,32.4 151.5,31 149.9,29.7 148.4,28.3 148.4,28.3 146.5,29.6 144.5,30.9 142.6,32.3 140.6,33.7 138.7,35.1 136.7,36.5 134.8,38 132.8,39.4 130.9,40.9 128.9,42.4 127,43.9 125.1,45.4 123.1,47 121.2,48.6 119.2,50.2 117.3,51.8 115.3,53.4 113.4,55 111.4,56.7 109.5,58.4 107.6,60.1 105.6,61.8 103.7,63.6 101.7,65.3 99.8,67.1 97.8,68.9 95.9,70.7 93.9,72.5 92,74.4 90,76.3 88.1,78.2 86.2,80.1 84.2,82 82.3,84 80.3,85.9 78.4,87.9 76.4,89.9 74.5,91.9 72.5,94 70.6,96.1 68.7,98.1 66.7,100.2 64.8,102.4 62.8,104.5 60.9,106.6 58.9,108.8 57,111 55,113.2 53.1,115.5 51.1,117.7 49.2,120 47.3,122.3 45.3,124.6 43.4,126.9 41.4,129.3 39.5,131.6 37.5,134 35.6,136.4 33.6,138.8 31.7,141.3" fill="none" stroke="#000" stroke-width="0.9" stroke-linejoin="round"/>
<clipPath id="clipR"><polygon points="332,120.2 333.5,122.2 335,124.1 336.5,126 338,127.9 339.5,129.8 341,131.6 342.5,133.4 344,135.2 345.5,137 347,138.7 348.5,140.5 350,142.2 351.5,143.8 353,145.5 354.5,147.1 356,148.7 357.5,150.2 359,151.8 360.5,153.3 362,154.8 363.5,156.3 365,157.7 366.5,159.1 368,160.5 369.5,161.9 371,163.2 372.5,164.5 374,165.8 375.5,167.1 377,168.3 378.5,169.6 380,170.8 381.5,171.9 383,173.1 384.5,174.2 386,175.3 387.5,176.4 389,177.4 390.5,178.4 392,179.4 393.5,180.4 395,181.3 396.5,182.2 398,183.1 399.5,184 401,184.9 402.5,185.7 404,186.5 405.5,187.2 407,188 408.5,188.7 410,189.4 411.5,190.1 413,190.7 414.5,191.3 416,191.9 417.5,192.5 419,193 420.5,193.6 422,194.1 422,194.1 423.9,192.4 425.8,190.7 427.7,189.1 429.6,187.4 431.5,185.8 433.4,184.1 435.3,182.5 437.2,180.8 439.1,179.1 441,177.5 442.9,175.8 444.8,174.2 446.7,172.5 448.6,170.8 450.5,169.2 452.4,167.5 454.3,165.9 456.2,164.2 458.1,162.6 460,160.9 461.9,159.2 463.8,157.6 465.7,155.9 467.6,154.3 469.5,152.6 471.4,150.9 473.3,149.3 475.2,147.6 477.1,146 479,144.3 480.9,142.7 482.8,141 484.7,139.3 486.6,137.7 488.5,136 490.4,134.4 492.3,132.7 494.2,131 496.1,129.4 498,127.7 499.9,126.1 501.8,124.4 503.7,122.8 505.6,121.1 507.5,119.4 509.4,117.8 511.3,116.1 513.2,114.5 515.1,112.8 517,111.1 518.9,109.5 520.8,107.8 522.7,106.2 524.6,104.5 526.5,102.9 528.4,101.2 530.3,99.5 532.2,97.9 534.1,96.2 536,94.6 536,94.6 534.5,94.1 533,93.6 531.5,93.1 530,92.6 528.5,92 527,91.5 525.5,90.9 524,90.3 522.5,89.7 521,89.1 519.5,88.4 518,87.8 516.5,87.1 515,86.4 513.5,85.7 512,85 510.5,84.2 509,83.5 507.5,82.7 506,81.9 504.5,81.1 503,80.2 501.5,79.4 500,78.5 498.5,77.6 497,76.7 495.5,75.8 494,74.9 492.5,73.9 491,73 489.5,72 488,71 486.5,69.9 485,68.9 483.5,67.8 482,66.8 480.5,65.7 479,64.6 477.5,63.4 476,62.3 474.5,61.1 473,60 471.5,58.8 470,57.6 468.5,56.3 467,55.1 465.5,53.8 464,52.5 462.5,51.3 461,49.9 459.5,48.6 458,47.3 456.5,45.9 455,44.5 453.5,43.1 452,41.7 450.5,40.3 449,38.8 447.5,37.3 446,35.8 446,35.8 444.1,37.2 442.2,38.5 440.3,39.9 438.4,41.2 436.5,42.6 434.6,44 432.7,45.3 430.8,46.7 428.9,48 427,49.4 425.1,50.8 423.2,52.1 421.3,53.5 419.4,54.9 417.5,56.3 415.6,57.6 413.7,59 411.8,60.4 409.9,61.8 408,63.2 406.1,64.5 404.2,65.9 402.3,67.3 400.4,68.7 398.5,70.1 396.6,71.5 394.7,72.9 392.8,74.3 390.9,75.7 389,77.1 387.1,78.5 385.2,79.9 383.3,81.3 381.4,82.8 379.5,84.2 377.6,85.6 375.7,87 373.8,88.4 371.9,89.9 370,91.3 368.1,92.7 366.2,94.1 364.3,95.6 362.4,97 360.5,98.4 358.6,99.9 356.7,101.3 354.8,102.8 352.9,104.2 351,105.6 349.1,107.1 347.2,108.5 345.3,110 343.4,111.4 341.5,112.9 339.6,114.4 337.7,115.8 335.8,117.3 333.9,118.7 332,120.2"/></clipPath>
<g clip-path="url(#clipR)">
<polygon points="332,120.2 333.5,122.2 335,124.1 336.5,126 338,127.9 339.5,129.8 341,131.6 342.5,133.4 344,135.2 345.5,137 347,138.7 348.5,140.5 350,142.2 351.5,143.8 353,145.5 354.5,147.1 356,148.7 357.5,150.2 359,151.8 360.5,153.3 362,154.8 363.5,156.3 365,157.7 366.5,159.1 368,160.5 369.5,161.9 371,163.2 372.5,164.5 374,165.8 375.5,167.1 377,168.3 378.5,169.6 380,170.8 381.5,171.9 383,173.1 384.5,174.2 386,175.3 387.5,176.4 389,177.4 390.5,178.4 392,179.4 393.5,180.4 395,181.3 396.5,182.2 398,183.1 399.5,184 401,184.9 402.5,185.7 404,186.5 405.5,187.2 407,188 408.5,188.7 410,189.4 411.5,190.1 413,190.7 414.5,191.3 416,191.9 417.5,192.5 419,193 420.5,193.6 422,194.1 422,194.1 423.9,192.4 425.8,190.7 427.7,189.1 429.6,187.4 431.5,185.8 433.4,184.1 435.3,182.5 437.2,180.8 439.1,179.1 441,177.5 442.9,175.8 444.8,174.2 446.7,172.5 448.6,170.8 450.5,169.2 452.4,167.5 454.3,165.9 456.2,164.2 458.1,162.6 460,160.9 461.9,159.2 463.8,157.6 465.7,155.9 467.6,154.3 469.5,152.6 471.4,150.9 473.3,149.3 475.2,147.6 477.1,146 479,144.3 480.9,142.7 482.8,141 484.7,139.3 486.6,137.7 488.5,136 490.4,134.4 492.3,132.7 494.2,131 496.1,129.4 498,127.7 499.9,126.1 501.8,124.4 503.7,122.8 505.6,121.1 507.5,119.4 509.4,117.8 511.3,116.1 513.2,114.5 515.1,112.8 517,111.1 518.9,109.5 520.8,107.8 522.7,106.2 524.6,104.5 526.5,102.9 528.4,101.2 530.3,99.5 532.2,97.9 534.1,96.2 536,94.6 536,94.6 534.5,94.1 533,93.6 531.5,93.1 530,92.6 528.5,92 527,91.5 525.5,90.9 524,90.3 522.5,89.7 521,89.1 519.5,88.4 518,87.8 516.5,87.1 515,86.4 513.5,85.7 512,85 510.5,84.2 509,83.5 507.5,82.7 506,81.9 504.5,81.1 503,80.2 501.5,79.4 500,78.5 498.5,77.6 497,76.7 495.5,75.8 494,74.9 492.5,73.9 491,73 489.5,72 488,71 486.5,69.9 485,68.9 483.5,67.8 482,66.8 480.5,65.7 479,64.6 477.5,63.4 476,62.3 474.5,61.1 473,60 471.5,58.8 470,57.6 468.5,56.3 467,55.1 465.5,53.8 464,52.5 462.5,51.3 461,49.9 459.5,48.6 458,47.3 456.5,45.9 455,44.5 453.5,43.1 452,41.7 450.5,40.3 449,38.8 447.5,37.3 446,35.8 446,35.8 444.1,37.2 442.2,38.5 440.3,39.9 438.4,41.2 436.5,42.6 434.6,44 432.7,45.3 430.8,46.7 428.9,48 427,49.4 425.1,50.8 423.2,52.1 421.3,53.5 419.4,54.9 417.5,56.3 415.6,57.6 413.7,59 411.8,60.4 409.9,61.8 408,63.2 406.1,64.5 404.2,65.9 402.3,67.3 400.4,68.7 398.5,70.1 396.6,71.5 394.7,72.9 392.8,74.3 390.9,75.7 389,77.1 387.1,78.5 385.2,79.9 383.3,81.3 381.4,82.8 379.5,84.2 377.6,85.6 375.7,87 373.8,88.4 371.9,89.9 370,91.3 368.1,92.7 366.2,94.1 364.3,95.6 362.4,97 360.5,98.4 358.6,99.9 356.7,101.3 354.8,102.8 352.9,104.2 351,105.6 349.1,107.1 347.2,108.5 345.3,110 343.4,111.4 341.5,112.9 339.6,114.4 337.7,115.8 335.8,117.3 333.9,118.7 332,120.2" fill="#000046"/>
<polygon points="387.7,178.5 391.4,180.3 395.2,182 399.2,183.2 404.6,181.4 409.3,180.9 413.4,181.9 416.8,184.4 419.6,188.2 421.8,193.4 425.4,195.6 429.2,197.3 432.9,199 572.9,-11 569.2,-12.7 565.4,-14.4 561.8,-16.6 559.6,-21.8 556.8,-25.6 553.4,-28.1 549.3,-29.1 544.6,-28.6 539.2,-26.8 535.2,-28 531.4,-29.7 527.7,-31.5" fill="#00004f"/>
<polygon points="374.9,170.6 380,172.8 385.1,174.9 391.3,174.3 397.4,174.1 403,174.8 408.3,176.4 413.2,179 417.7,182.6 421.9,187 425.9,191.8 431,194 436,196.1 576,-13.9 571,-16 565.9,-18.2 561.9,-23 557.7,-27.4 553.2,-31 548.3,-33.6 543,-35.2 537.4,-35.9 531.3,-35.7 525.1,-35.1 520,-37.2 514.9,-39.4" fill="#000063"/>
<polygon points="367.3,165.2 373.3,167.5 379.4,169.4 386.5,168.9 393.3,169.2 399.8,170.3 405.9,172.2 411.8,175 417.3,178.5 422.4,182.9 427.3,188.1 433.1,190.9 439.1,193.2 579.1,-16.8 573.1,-19.1 567.3,-21.9 562.4,-27.1 557.3,-31.5 551.8,-35 545.9,-37.8 539.8,-39.7 533.3,-40.8 526.5,-41.1 519.4,-40.6 513.3,-42.5 507.3,-44.8" fill="#000079"/>
<polygon points="361.7,160.8 368.4,163.3 375.5,164.7 383.2,164.6 390.6,165.2 397.7,166.5 404.5,168.6 411.1,171.4 417.4,175 423.4,179.4 429.1,184.5 435.5,188 442.2,190.4 582.2,-19.6 575.5,-22 569.1,-25.5 563.4,-30.6 557.4,-35 551.1,-38.6 544.5,-41.4 537.7,-43.5 530.6,-44.8 523.2,-45.4 515.5,-45.3 508.4,-46.7 501.7,-49.2" fill="#000092"/>
<polygon points="356.2,156 363.6,158.6 371.5,159.9 379.8,160.1 387.8,160.9 395.6,162.5 403.2,164.8 410.4,167.8 417.5,171.6 424.3,176 430.8,181.1 437.7,185.2 445.1,187.8 585.1,-22.2 577.7,-24.8 570.8,-28.9 564.3,-34 557.5,-38.4 550.4,-42.2 543.2,-45.2 535.6,-47.5 527.8,-49.1 519.8,-49.9 511.5,-50.1 503.6,-51.4 496.2,-54" fill="#0000ad"/>
<polygon points="351.5,151.6 359.5,154.4 368.1,155.5 376.9,156 385.5,157.2 393.9,159 402,161.5 409.9,164.7 417.6,168.6 425,173.1 432.1,178.3 439.5,182.8 447.6,185.6 587.6,-24.4 579.5,-27.2 572.1,-31.7 565,-36.9 557.6,-41.4 549.9,-45.3 542,-48.5 533.9,-51 525.5,-52.8 516.9,-54 508.1,-54.5 499.5,-55.6 491.5,-58.4" fill="#0000ca"/>
<polygon points="347.5,147.7 356,150.6 365.2,151.7 374.6,152.4 383.7,153.8 392.6,155.8 401.2,158.5 409.7,161.8 417.9,165.7 425.8,170.3 433.6,175.6 441.5,180.5 450,183.4 590,-26.6 581.5,-29.5 573.6,-34.4 565.8,-39.7 557.9,-44.3 549.7,-48.2 541.2,-51.5 532.6,-54.2 523.7,-56.2 514.6,-57.6 505.2,-58.3 496,-59.4 487.5,-62.3" fill="#0000e7"/>
<polygon points="343.5,143.5 352.6,146.7 362.4,147.8 372.2,148.7 381.9,150.3 391.3,152.5 400.5,155.3 409.4,158.8 418.2,162.9 426.7,167.6 435,172.9 443.4,178.1 452.5,181.3 592.5,-28.7 583.4,-31.9 575,-37.1 566.7,-42.4 558.2,-47.1 549.4,-51.2 540.5,-54.7 531.3,-57.5 521.9,-59.7 512.2,-61.3 502.4,-62.2 492.6,-63.3 483.5,-66.5" fill="#0000f7"/>
<polygon points="339.6,139.2 349.2,142.6 359.6,143.7 369.9,144.9 380,146.7 390,149.1 399.7,152.1 409.2,155.7 418.5,160 427.6,164.8 436.5,170.3 445.3,175.8 454.9,179.1 594.9,-30.9 585.3,-34.2 576.5,-39.7 567.6,-45.2 558.5,-50 549.2,-54.3 539.7,-57.9 530,-60.9 520,-63.3 509.9,-65.1 499.6,-66.3 489.2,-67.4 479.6,-70.8" fill="#0008ff"/>
<polygon points="337,136.5 347,139.9 357.8,141 368.6,142.2 379.1,144.1 389.4,146.6 399.6,149.6 409.5,153.3 419.2,157.6 428.7,162.4 438.1,167.9 447.3,173.6 457.4,177 597.4,-33 587.3,-36.4 578.1,-42.1 568.7,-47.6 559.2,-52.4 549.5,-56.7 539.6,-60.4 529.4,-63.4 519.1,-65.9 508.6,-67.8 497.8,-69 487,-70.1 477,-73.5" fill="#0018ff"/>
<polygon points="334.5,133.5 344.8,137.1 356,138.3 367,139.8 377.8,141.9 388.4,144.5 398.8,147.8 409,151.7 419,156.1 428.8,161.2 438.4,166.8 447.9,172.7 458.2,176.3 598.2,-33.7 587.9,-37.3 578.4,-43.2 568.8,-48.8 559,-53.9 549,-58.3 538.8,-62.2 528.4,-65.5 517.8,-68.1 507,-70.2 496,-71.7 484.8,-72.9 474.5,-76.5" fill="#0028ff"/>
<polygon points="332.1,130.5 342.6,134.2 354.1,135.6 365.4,137.3 376.5,139.6 387.4,142.5 398.1,146 408.6,150 418.8,154.7 428.9,159.9 438.8,165.7 448.5,171.8 459.1,175.6 599.1,-34.4 588.5,-38.2 578.8,-44.3 568.9,-50.1 558.8,-55.3 548.6,-60 538.1,-64 527.4,-67.5 516.5,-70.4 505.4,-72.7 494.1,-74.4 482.6,-75.8 472.1,-79.5" fill="#0038ff"/>
<polygon points="329.6,127.3 340.4,131.3 352.2,132.8 363.8,134.8 375.2,137.3 386.4,140.4 397.3,144.1 408.1,148.3 418.6,153.2 429,158.6 439.1,164.5 449.1,171 459.9,174.9 599.9,-35.1 589.1,-39 579.1,-45.5 569,-51.4 558.6,-56.8 548.1,-61.7 537.3,-65.9 526.4,-69.6 515.2,-72.7 503.8,-75.2 492.2,-77.2 480.4,-78.7 469.6,-82.7" fill="#0048ff"/>
<polygon points="328.4,125.9 339.4,129.9 351.4,131.4 363.1,133.5 374.7,136.1 386,139.2 397.2,143 408.1,147.3 418.8,152.1 429.3,157.6 439.7,163.6 449.8,170.1 460.8,174.1 600.8,-35.9 589.8,-39.9 579.7,-46.4 569.3,-52.4 558.8,-57.9 548.1,-62.7 537.2,-67 526,-70.8 514.7,-73.9 503.1,-76.5 491.4,-78.6 479.4,-80.1 468.4,-84.1" fill="#0058ff"/>
<polygon points="327.4,124.7 338.6,128.8 350.7,130.3 362.6,132.4 374.3,135 385.8,138.2 397.1,142 408.2,146.3 419.1,151.2 429.8,156.7 440.2,162.7 450.5,169.3 461.7,173.3 601.7,-36.7 590.5,-40.7 580.2,-47.3 569.8,-53.3 559.1,-58.8 548.2,-63.7 537.1,-68 525.8,-71.8 514.3,-75 502.6,-77.6 490.7,-79.7 478.6,-81.2 467.4,-85.3" fill="#0068ff"/>
<polygon points="326.5,123.5 337.8,127.6 350.1,129.2 362.1,131.3 373.9,134 385.6,137.3 397,141.1 408.2,145.5 419.2,150.4 430,155.9 440.7,162 451.1,168.6 462.4,172.8 602.4,-37.2 591.1,-41.4 580.7,-48 570,-54.1 559.2,-59.6 548.2,-64.5 537,-68.9 525.6,-72.7 513.9,-76 502.1,-78.7 490.1,-80.8 477.8,-82.4 466.5,-86.5" fill="#0078ff"/>
<polygon points="325.5,122.3 337,126.5 349.4,128.1 361.5,130.3 373.5,133 385.3,136.3 396.8,140.2 408.2,144.7 419.3,149.6 430.3,155.2 441,161.3 451.6,168 463,172.2 603,-37.8 591.6,-42 581,-48.7 570.3,-54.8 559.3,-60.4 548.2,-65.3 536.8,-69.8 525.3,-73.7 513.5,-77 501.5,-79.7 489.4,-81.9 477,-83.5 465.5,-87.7" fill="#0087ff"/>
<polygon points="324.6,121.1 336.2,125.3 348.7,127 361,129.2 373.1,132 385,135.4 396.7,139.3 408.2,143.8 419.5,148.9 430.5,154.5 441.4,160.6 452.1,167.3 463.7,171.6 603.7,-38.4 592.1,-42.7 581.4,-49.4 570.5,-55.5 559.5,-61.1 548.2,-66.2 536.7,-70.7 525,-74.6 513.1,-78 501,-80.8 488.7,-83 476.2,-84.7 464.6,-88.9" fill="#0097ff"/>
<polygon points="323.7,120.1 335.5,124.2 348.1,125.9 360.5,128.3 372.8,131.1 384.8,134.5 396.6,138.5 408.2,143 419.6,148.1 430.8,153.8 441.8,160 452.6,166.7 464.3,171.1 604.3,-38.9 592.6,-43.3 581.8,-50 570.8,-56.2 559.6,-61.9 548.2,-67 536.6,-71.5 524.8,-75.5 512.8,-78.9 500.5,-81.7 488.1,-84.1 475.5,-85.8 463.7,-89.9" fill="#00a7ff"/>
<polygon points="322.9,119 334.8,123.2 347.6,125 360.1,127.3 372.4,130.2 384.6,133.7 396.5,137.7 408.2,142.3 419.8,147.4 431.1,153.1 442.2,159.3 453.2,166.1 465,170.5 605,-39.5 593.2,-43.9 582.2,-50.7 571.1,-56.9 559.8,-62.6 548.2,-67.7 536.5,-72.3 524.6,-76.3 512.4,-79.8 500.1,-82.7 487.6,-85 474.8,-86.8 462.9,-91" fill="#00b7ff"/>
<polygon points="322.1,118 334.1,122.2 347,124 359.7,126.4 372.1,129.3 384.4,132.8 396.4,136.9 408.3,141.5 419.9,146.7 431.4,152.4 442.7,158.6 453.7,165.4 465.6,169.9 605.6,-40.1 593.7,-44.6 582.7,-51.4 571.4,-57.6 559.9,-63.3 548.3,-68.5 536.4,-73.1 524.4,-77.2 512.1,-80.7 499.7,-83.6 487,-86 474.1,-87.8 462.1,-92" fill="#00c7ff"/>
<polygon points="321.3,116.9 333.5,121.1 346.4,123 359.2,125.5 371.8,128.5 384.2,132 396.3,136.1 408.3,140.7 420.1,145.9 431.7,151.7 443.1,158 454.3,164.8 466.3,169.4 606.3,-40.6 594.3,-45.2 583.1,-52 571.7,-58.3 560.1,-64.1 548.3,-69.3 536.3,-73.9 524.2,-78 511.8,-81.5 499.2,-84.5 486.4,-87 473.5,-88.9 461.3,-93.1" fill="#00d7ff"/>
<polygon points="321.3,115.7 333.5,119.9 346.6,121.8 359.5,124.3 372.1,127.3 384.6,130.9 396.9,135 409,139.6 420.8,144.9 432.5,150.6 444,156.9 455.3,163.8 467.4,168.4 607.4,-41.6 595.3,-46.2 584,-53.1 572.5,-59.4 560.8,-65.1 549,-70.4 536.9,-75 524.6,-79.1 512.1,-82.7 499.5,-85.7 486.6,-88.2 473.5,-90.1 461.3,-94.3" fill="#01fffc"/>
<polygon points="323.6,113.8 335.8,118.1 348.8,120.1 361.5,122.7 374.1,125.8 386.5,129.4 398.7,133.6 410.7,138.3 422.4,143.6 434,149.5 445.4,155.8 456.5,162.8 468.5,167.4 608.5,-42.6 596.5,-47.2 585.4,-54.2 574,-60.5 562.4,-66.4 550.7,-71.7 538.7,-76.4 526.5,-80.6 514.1,-84.2 501.5,-87.3 488.8,-89.9 475.8,-91.9 463.6,-96.2" fill="#0bffe3"/>
<polygon points="326,112 338,116.3 350.9,118.4 363.6,121 376.1,124.2 388.4,127.9 400.5,132.2 412.4,137 424,142.4 435.5,148.3 446.7,154.8 457.8,161.8 469.7,166.5 609.7,-43.5 597.8,-48.2 586.7,-55.2 575.5,-61.7 564,-67.6 552.4,-73 540.5,-77.8 528.4,-82.1 516.1,-85.8 503.6,-89 490.9,-91.6 478,-93.7 466,-98" fill="#13ffcf"/>
<polygon points="328.3,110.1 340.3,114.5 353.1,116.7 365.7,119.4 378.1,122.7 390.3,126.5 402.3,130.8 414.1,135.7 425.6,141.1 437,147.1 448.1,153.7 459.1,160.7 470.9,165.5 610.9,-44.5 599.1,-49.3 588.1,-56.3 577,-62.9 565.6,-68.9 554.1,-74.3 542.3,-79.2 530.3,-83.5 518.1,-87.3 505.7,-90.6 493.1,-93.3 480.3,-95.5 468.3,-99.9" fill="#1bffbc"/>
<polygon points="330.6,108.3 342.5,112.8 355.3,114.9 367.9,117.7 380.3,121 392.4,124.8 404.4,129.2 416.1,134.1 427.6,139.5 438.9,145.5 450,152.1 460.9,159.2 472.6,164 612.6,-46 600.9,-50.8 590,-57.9 578.9,-64.5 567.6,-70.5 556.1,-75.9 544.4,-80.8 532.4,-85.2 520.3,-89 507.9,-92.3 495.3,-95.1 482.5,-97.2 470.6,-101.7" fill="#22ffaa"/>
<polygon points="333,106.5 344.8,111 357.6,113.2 370.1,116 382.5,119.3 394.6,123.1 406.5,127.5 418.1,132.4 429.6,137.9 440.8,144 451.9,150.5 462.7,157.7 474.4,162.5 614.4,-47.5 602.7,-52.3 591.9,-59.5 580.8,-66 569.6,-72.1 558.1,-77.6 546.5,-82.5 534.6,-86.9 522.5,-90.7 510.1,-94 497.6,-96.8 484.8,-99 473,-103.5" fill="#29ff98"/>
<polygon points="335.3,104.7 347.1,109.2 359.9,111.4 372.4,114.1 384.7,117.4 396.8,121.2 408.7,125.6 420.4,130.5 431.9,136 443.1,142 454.1,148.6 465,155.7 476.7,160.5 616.7,-49.5 605,-54.3 594.1,-61.4 583.1,-68 571.9,-74 560.4,-79.5 548.7,-84.4 536.8,-88.8 524.7,-92.6 512.4,-95.9 499.9,-98.6 487.1,-100.8 475.3,-105.3" fill="#30ff86"/>
<polygon points="338.5,102.2 350.3,106.7 363.1,108.9 375.6,111.7 387.8,115 399.9,118.8 411.8,123.2 423.4,128.1 434.8,133.6 446,139.6 457,146.1 467.8,153.3 479.5,158 619.5,-52 607.8,-56.7 597,-63.9 586,-70.4 574.8,-76.4 563.4,-81.9 551.8,-86.8 539.9,-91.2 527.8,-95 515.6,-98.3 503.1,-101.1 490.3,-103.3 478.5,-107.8" fill="#37ff75"/>
<polygon points="342,99.6 353.7,104.1 366.4,106.3 378.8,109.1 391.1,112.4 403.1,116.3 414.9,120.7 426.5,125.6 437.8,131.1 449,137.1 459.9,143.7 470.6,150.8 482.3,155.6 622.3,-54.4 610.6,-59.2 599.9,-66.3 589,-72.9 577.8,-78.9 566.5,-84.4 554.9,-89.3 543.1,-93.7 531.1,-97.6 518.8,-100.9 506.4,-103.7 493.7,-105.9 482,-110.4" fill="#3eff63"/>
<polygon points="345.4,97 357.1,101.5 369.7,103.8 382.1,106.5 394.3,109.9 406.3,113.7 418,118.1 429.5,123.1 440.9,128.6 451.9,134.7 462.8,141.3 473.5,148.4 485.1,153.2 625.1,-56.8 613.5,-61.6 602.8,-68.7 591.9,-75.3 580.9,-81.4 569.5,-86.9 558,-91.9 546.3,-96.3 534.3,-100.1 522.1,-103.5 509.7,-106.2 497.1,-108.5 485.4,-113" fill="#45ff52"/>
<polygon points="348.8,94.4 360.4,98.9 373,101.2 385.4,104 397.5,107.3 409.5,111.2 421.1,115.6 432.6,120.6 443.9,126.1 454.9,132.2 465.7,138.8 476.3,146 487.8,150.8 627.8,-59.2 616.3,-64 605.7,-71.2 594.9,-77.8 583.9,-83.9 572.6,-89.4 561.1,-94.4 549.5,-98.8 537.5,-102.7 525.4,-106 513,-108.8 500.4,-111.1 488.8,-115.6" fill="#59ff43"/>
<polygon points="353.2,90.9 364.7,95.6 377.1,98.1 389.3,101 401.3,104.5 413,108.5 424.5,113.1 435.8,118.2 446.8,123.9 457.6,130.1 468.2,136.9 478.5,144.2 489.9,149.1 629.9,-60.9 618.5,-65.8 608.2,-73.1 597.6,-79.9 586.8,-86.1 575.8,-91.8 564.5,-96.9 553,-101.5 541.3,-105.5 529.3,-109 517.1,-111.9 504.7,-114.4 493.2,-119.1" fill="#76ff37"/>
<polygon points="357.7,87.4 368.9,92.4 381.2,94.9 393.2,98 405,101.7 416.6,105.9 427.9,110.6 438.9,115.9 449.8,121.7 460.3,128.1 470.7,135 480.8,142.4 491.9,147.5 631.9,-62.5 620.8,-67.6 610.7,-75 600.3,-81.9 589.8,-88.3 578.9,-94.1 567.9,-99.4 556.6,-104.1 545,-108.3 533.2,-112 521.2,-115.1 508.9,-117.6 497.7,-122.6" fill="#91ff2c"/>
<polygon points="362.1,84 373.1,89.1 385.2,91.8 397.1,95.1 408.7,98.9 420.1,103.2 431.2,108.1 442.1,113.5 452.7,119.5 463.1,126 473.2,133 483,140.6 494,145.8 634,-64.2 623,-69.4 613.2,-77 603.1,-84 592.7,-90.5 582.1,-96.5 571.2,-101.9 560.1,-106.8 548.7,-111.1 537.1,-114.9 525.2,-118.2 513.1,-120.9 502.1,-126" fill="#a9ff23"/>
<polygon points="367.5,79.8 378.3,85.1 390.3,88 402,91.3 413.5,95.3 424.7,99.7 435.6,104.7 446.3,110.3 456.7,116.4 466.9,123 476.8,130.1 486.4,137.8 497.2,143.1 637.2,-66.9 626.4,-72.2 616.8,-79.9 606.9,-87 596.7,-93.6 586.3,-99.7 575.6,-105.3 564.7,-110.3 553.5,-114.7 542,-118.7 530.3,-122 518.3,-124.9 507.5,-130.2" fill="#bfff1a"/>
<polygon points="373.1,75.5 383.7,80.9 395.5,84 407.1,87.5 418.4,91.5 429.4,96.1 440.2,101.3 450.6,106.9 460.9,113.1 470.8,119.9 480.4,127.2 489.8,135 500.5,140.4 640.5,-69.6 629.8,-75 620.4,-82.8 610.8,-90.1 600.9,-96.9 590.6,-103.1 580.2,-108.7 569.4,-113.9 558.4,-118.5 547.1,-122.5 535.5,-126 523.7,-129.1 513.1,-134.5" fill="#d3ff12"/>
<polygon points="375.8,73.5 386.4,78.9 398.2,81.9 409.8,85.4 421.1,89.5 432.1,94 442.8,99.2 453.2,104.8 463.4,111 473.3,117.7 483,125 492.4,132.8 502.9,138.2 642.9,-71.8 632.4,-77.2 623,-85 613.3,-92.3 603.4,-99 593.2,-105.2 582.8,-110.8 572.1,-116 561.1,-120.5 549.8,-124.6 538.2,-128.1 526.4,-131.1 515.8,-136.5" fill="#e6ff0a"/>
<polygon points="378.2,71.8 388.8,77.1 400.6,80.1 412.2,83.6 423.4,87.6 434.5,92.1 445.2,97.2 455.7,102.8 465.9,109 475.8,115.6 485.5,122.9 494.9,130.6 505.5,136 645.5,-74 634.9,-79.4 625.5,-87.1 615.8,-94.4 605.9,-101 595.7,-107.2 585.2,-112.8 574.5,-117.9 563.4,-122.4 552.2,-126.4 540.6,-129.9 528.8,-132.9 518.2,-138.2" fill="#f7ff03"/>
<polygon points="380.5,70.1 391.2,75.4 403,78.3 414.5,81.7 425.8,85.7 436.9,90.2 447.6,95.2 458.1,100.8 468.3,106.9 478.3,113.6 487.9,120.7 497.4,128.4 508,133.8 648,-76.2 637.4,-81.6 627.9,-89.3 618.3,-96.4 608.3,-103.1 598.1,-109.2 587.6,-114.8 576.9,-119.8 565.8,-124.3 554.5,-128.3 543,-131.7 531.2,-134.6 520.5,-139.9" fill="#fff700"/>
<polygon points="381.9,69.1 392.4,74.4 404.2,77.4 415.7,80.8 427,84.8 437.9,89.4 448.6,94.4 459.1,100 469.2,106.2 479.1,112.9 488.7,120.1 498.1,127.8 508.7,133.2 648.7,-76.8 638.1,-82.2 628.7,-89.9 619.1,-97.1 609.2,-103.8 599.1,-110 588.6,-115.6 577.9,-120.6 567,-125.2 555.7,-129.2 544.2,-132.6 532.4,-135.6 521.9,-140.9" fill="#ffe700"/>
<polygon points="383.2,68.1 393.7,73.5 405.4,76.5 416.9,79.9 428.1,84 439,88.6 449.7,93.7 460,99.3 470.2,105.5 480,112.2 489.5,119.5 498.8,127.2 509.3,132.6 649.3,-77.4 638.8,-82.8 629.5,-90.5 620,-97.8 610.2,-104.5 600,-110.7 589.7,-116.3 579,-121.4 568.1,-126 556.9,-130.1 545.4,-133.5 533.7,-136.5 523.2,-141.9" fill="#ffd700"/>
<polygon points="384.5,67.1 394.9,72.5 406.6,75.5 418.1,79.1 429.2,83.1 440.1,87.8 450.7,92.9 461,98.6 471.1,104.8 480.8,111.6 490.3,118.8 499.6,126.6 510,132 650,-78 639.6,-83.4 630.3,-91.2 620.8,-98.4 611.1,-105.2 601,-111.4 590.7,-117.1 580.1,-122.2 569.2,-126.9 558.1,-130.9 546.6,-134.5 534.9,-137.5 524.5,-142.9" fill="#ffc700"/>
<polygon points="385.8,66.1 396.2,71.5 407.8,74.6 419.2,78.2 430.3,82.3 441.2,87 451.7,92.1 462,97.8 472,104.1 481.7,110.9 491.1,118.2 500.3,126 510.7,131.5 650.7,-78.5 640.3,-84 631.1,-91.8 621.7,-99.1 612,-105.9 602,-112.2 591.7,-117.9 581.2,-123 570.3,-127.7 559.2,-131.8 547.8,-135.4 536.2,-138.5 525.8,-143.9" fill="#ffb700"/>
<polygon points="387.1,65.1 397.4,70.6 409,73.7 420.4,77.3 431.5,81.5 442.3,86.1 452.8,91.4 463,97.1 472.9,103.4 482.6,110.2 491.9,117.6 501,125.4 511.4,130.9 651.4,-79.1 641,-84.6 631.9,-92.4 622.6,-99.8 612.9,-106.6 603,-112.9 592.8,-118.6 582.3,-123.9 571.5,-128.5 560.4,-132.7 549,-136.3 537.4,-139.4 527.1,-144.9" fill="#ffa700"/>
<polygon points="388.4,64.1 398.7,69.6 410.3,72.8 421.6,76.4 432.6,80.6 443.4,85.3 453.8,90.6 464,96.3 473.8,102.7 483.4,109.5 492.7,116.9 501.8,124.8 512.1,130.3 652.1,-79.7 641.8,-85.2 632.7,-93.1 623.4,-100.5 613.8,-107.3 604,-113.7 593.8,-119.4 583.4,-124.7 572.6,-129.4 561.6,-133.6 550.3,-137.2 538.7,-140.4 528.4,-145.9" fill="#ff9700"/>
<polygon points="389.7,63.1 400,68.7 411.5,71.8 422.8,75.5 433.8,79.7 444.5,84.4 454.9,89.7 465,95.5 474.8,101.9 484.3,108.8 493.6,116.3 502.5,124.2 512.8,129.8 652.8,-80.2 642.5,-85.8 633.6,-93.7 624.3,-101.2 614.8,-108.1 605,-114.5 594.9,-120.3 584.5,-125.6 573.8,-130.3 562.8,-134.5 551.5,-138.2 540,-141.3 529.7,-146.9" fill="#ff8700"/>
<polygon points="391,62.1 401.2,67.7 412.7,70.9 424,74.5 435,78.7 445.6,83.5 456,88.8 466.1,94.6 475.8,101.1 485.2,108.1 494.4,115.6 503.3,123.6 513.5,129.2 653.5,-80.8 643.3,-86.4 634.4,-94.4 625.2,-101.9 615.8,-108.9 606.1,-115.4 596,-121.2 585.6,-126.5 575,-131.3 564,-135.5 552.7,-139.1 541.2,-142.3 531,-147.9" fill="#ff7800"/>
<polygon points="392.2,61.3 402.4,66.9 413.9,70 425.2,73.5 436.2,77.7 446.9,82.4 457.2,87.7 467.3,93.6 477,100 486.4,107 495.5,114.6 504.3,122.7 514.5,128.2 654.5,-81.8 644.3,-87.3 635.5,-95.4 626.4,-103 617,-110 607.3,-116.4 597.2,-122.3 586.9,-127.6 576.2,-132.3 565.2,-136.5 553.9,-140 542.4,-143.1 532.2,-148.7" fill="#ff6800"/>
<polygon points="393.3,60.5 403.5,66 415.1,69 426.4,72.5 437.4,76.6 448.1,81.3 458.5,86.5 468.5,92.4 478.2,98.9 487.6,105.9 496.6,113.6 505.4,121.7 515.6,127.3 655.6,-82.7 645.4,-88.3 636.6,-96.4 627.6,-104.1 618.2,-111.1 608.5,-117.6 598.5,-123.5 588.1,-128.7 577.4,-133.4 566.4,-137.5 555.1,-141 543.5,-144 533.3,-149.5" fill="#ff5800"/>
<polygon points="394.4,59.6 404.6,65.2 416.3,68.1 427.7,71.4 438.7,75.4 449.4,80.1 459.7,85.3 469.8,91.2 479.4,97.7 488.8,104.8 497.8,112.5 506.5,120.8 516.7,126.4 656.7,-83.6 646.5,-89.2 637.8,-97.5 628.8,-105.2 619.4,-112.3 609.8,-118.8 599.7,-124.7 589.4,-129.9 578.7,-134.6 567.7,-138.6 556.3,-141.9 544.6,-144.8 534.4,-150.4" fill="#ff4800"/>
<polygon points="395.6,58.8 405.7,64.4 417.5,67.1 428.9,70.3 440,74.3 450.7,78.8 461.1,84.1 471.1,89.9 480.7,96.5 490,103.7 498.9,111.5 507.6,119.9 517.8,125.4 657.8,-84.6 647.6,-90.1 638.9,-98.5 630,-106.3 620.7,-113.5 611.1,-120.1 601.1,-125.9 590.7,-131.2 580,-135.7 568.9,-139.7 557.5,-142.9 545.7,-145.6 535.6,-151.2" fill="#ff3800"/>
<polygon points="396.7,58 406.9,63.5 418.7,66.1 430.2,69.2 441.3,73 452,77.5 462.4,82.7 472.4,88.6 482,95.2 491.2,102.5 500.1,110.4 508.6,118.9 518.8,124.5 658.8,-85.5 648.6,-91.1 640.1,-99.6 631.2,-107.5 622,-114.8 612.4,-121.4 602.4,-127.3 592,-132.5 581.3,-137 570.2,-140.8 558.7,-143.9 546.9,-146.5 536.7,-152" fill="#ff2800"/>
<polygon points="397.8,57.1 408,62.7 419.9,65.1 431.5,68 442.6,71.8 453.4,76.2 463.8,81.4 473.7,87.3 483.3,93.9 492.5,101.2 501.3,109.3 509.7,118 519.9,123.6 659.9,-86.4 649.7,-92 641.3,-100.7 632.5,-108.8 623.3,-116.1 613.7,-122.7 603.8,-128.6 593.4,-133.8 582.6,-138.2 571.5,-142 559.9,-144.9 548,-147.3 537.8,-152.9" fill="#ff1800"/>
<polygon points="400.7,55.1 410.8,60.6 422.7,62.8 434.3,65.7 445.5,69.3 456.3,73.7 466.6,78.9 476.5,84.8 486,91.5 495,99 503.6,107.3 511.9,116.2 522,121.7 662,-88.3 651.9,-93.8 643.6,-102.7 635,-111 626,-118.5 616.5,-125.2 606.6,-131.1 596.3,-136.3 585.5,-140.7 574.3,-144.3 562.7,-147.2 550.8,-149.4 540.7,-154.9" fill="#ff0800"/>
<polygon points="404.6,52.1 414.6,57.7 426.6,59.8 438.3,62.5 449.4,66.1 460.1,70.4 470.4,75.6 480.2,81.6 489.5,88.4 498.4,96.1 506.8,104.6 514.9,113.7 524.9,119.3 664.9,-90.7 654.9,-96.3 646.8,-105.4 638.4,-113.9 629.5,-121.6 620.2,-128.4 610.4,-134.4 600.1,-139.6 589.4,-143.9 578.3,-147.5 566.6,-150.2 554.6,-152.3 544.6,-157.9" fill="#f70000"/>
<polygon points="408.6,49.2 418.5,54.9 430.6,56.8 442.2,59.3 453.4,62.8 464.1,67.1 474.2,72.3 483.9,78.4 493.1,85.3 501.8,93.1 510,101.8 517.8,111.2 527.7,116.8 667.7,-93.2 657.8,-98.8 650,-108.2 641.8,-116.9 633.1,-124.7 623.9,-131.6 614.2,-137.7 604.1,-142.9 593.4,-147.2 582.2,-150.7 570.6,-153.2 558.5,-155.1 548.6,-160.8" fill="#e70000"/>
<polygon points="412.5,46.3 422.4,52 434.5,53.7 446.2,56.1 457.4,59.5 468,63.8 478.1,69 487.7,75.1 496.7,82.2 505.2,90.2 513.2,99.1 520.8,108.7 530.6,114.3 670.6,-95.7 660.8,-101.3 653.2,-110.9 645.2,-119.8 636.7,-127.8 627.7,-134.9 618.1,-141 608,-146.2 597.4,-150.5 586.2,-153.9 574.5,-156.3 562.4,-158 552.5,-163.7" fill="#d70000"/>
<polygon points="416.5,43.4 426.3,49.1 438.4,50.7 450.2,52.9 461.4,56.1 472,60.4 482.1,65.6 491.5,71.8 500.4,79 508.7,87.1 516.4,96.3 523.7,106.2 533.5,111.9 673.5,-98.1 663.7,-103.8 656.4,-113.7 648.7,-122.9 640.4,-131 631.5,-138.2 622.1,-144.4 612,-149.6 601.4,-153.9 590.2,-157.1 578.4,-159.3 566.3,-160.9 556.5,-166.6" fill="#c70000"/>
<polygon points="420.4,40.6 430.1,46.3 442.3,47.7 454.2,49.7 465.4,52.8 476,57 485.9,62.2 495.3,68.5 504,75.8 512,84.2 519.5,93.7 526.5,103.8 536.1,109.6 676.1,-100.4 666.5,-106.2 659.5,-116.3 652,-125.8 644,-134.2 635.3,-141.5 625.9,-147.8 616,-153 605.4,-157.2 594.2,-160.3 582.3,-162.3 570.1,-163.7 560.4,-169.4" fill="#b70000"/>
<polygon points="424.3,37.7 433.8,43.6 446.2,44.7 458.1,46.6 469.4,49.6 479.9,53.7 489.8,59 499,65.3 507.5,72.8 515.3,81.5 522.4,91.2 529.1,101.7 538.6,107.5 678.6,-102.5 669.1,-108.3 662.4,-118.8 655.3,-128.5 647.5,-137.2 639,-144.7 629.8,-151 619.9,-156.3 609.4,-160.4 598.1,-163.4 586.2,-165.3 573.8,-166.4 564.3,-172.3" fill="#a70000"/>
<polygon points="428.2,34.9 437.6,40.8 450.1,41.8 462.1,43.4 473.4,46.3 483.9,50.4 493.7,55.7 502.7,62.1 511,69.8 518.5,78.7 525.3,88.7 531.7,99.5 541.1,105.4 681.1,-104.6 671.7,-110.5 665.3,-121.3 658.5,-131.3 651,-140.2 642.7,-147.9 633.7,-154.3 623.9,-159.6 613.4,-163.7 602.1,-166.6 590.1,-168.2 577.6,-169.2 568.2,-175.1" fill="#970000"/>
<polygon points="432.1,32.1 441.4,38 453.9,38.8 466.1,40.3 477.4,43 487.9,47 497.6,52.3 506.5,58.9 514.6,66.7 521.8,75.8 528.3,86.2 534.3,97.3 543.6,103.2 683.6,-106.8 674.3,-112.7 668.3,-123.8 661.8,-134.2 654.6,-143.3 646.5,-151.1 637.6,-157.7 627.9,-163 617.4,-167 606.1,-169.7 593.9,-171.2 581.4,-172 572.1,-177.9" fill="#870000"/>
</g>
<polygon points="332,120.2 333.5,122.2 335,124.1 336.5,126 338,127.9 339.5,129.8 341,131.6 342.5,133.4 344,135.2 345.5,137 347,138.7 348.5,140.5 350,142.2 351.5,143.8 353,145.5 354.5,147.1 356,148.7 357.5,150.2 359,151.8 360.5,153.3 362,154.8 363.5,156.3 365,157.7 366.5,159.1 368,160.5 369.5,161.9 371,163.2 372.5,164.5 374,165.8 375.5,167.1 377,168.3 378.5,169.6 380,170.8 381.5,171.9 383,173.1 384.5,174.2 386,175.3 387.5,176.4 389,177.4 390.5,178.4 392,179.4 393.5,180.4 395,181.3 396.5,182.2 398,183.1 399.5,184 401,184.9 402.5,185.7 404,186.5 405.5,187.2 407,188 408.5,188.7 410,189.4 411.5,190.1 413,190.7 414.5,191.3 416,191.9 417.5,192.5 419,193 420.5,193.6 422,194.1 422,194.1 423.9,192.4 425.8,190.7 427.7,189.1 429.6,187.4 431.5,185.8 433.4,184.1 435.3,182.5 437.2,180.8 439.1,179.1 441,177.5 442.9,175.8 444.8,174.2 446.7,172.5 448.6,170.8 450.5,169.2 452.4,167.5 454.3,165.9 456.2,164.2 458.1,162.6 460,160.9 461.9,159.2 463.8,157.6 465.7,155.9 467.6,154.3 469.5,152.6 471.4,150.9 473.3,149.3 475.2,147.6 477.1,146 479,144.3 480.9,142.7 482.8,141 484.7,139.3 486.6,137.7 488.5,136 490.4,134.4 492.3,132.7 494.2,131 496.1,129.4 498,127.7 499.9,126.1 501.8,124.4 503.7,122.8 505.6,121.1 507.5,119.4 509.4,117.8 511.3,116.1 513.2,114.5 515.1,112.8 517,111.1 518.9,109.5 520.8,107.8 522.7,106.2 524.6,104.5 526.5,102.9 528.4,101.2 530.3,99.5 532.2,97.9 534.1,96.2 536,94.6 536,94.6 534.5,94.1 533,93.6 531.5,93.1 530,92.6 528.5,92 527,91.5 525.5,90.9 524,90.3 522.5,89.7 521,89.1 519.5,88.4 518,87.8 516.5,87.1 515,86.4 513.5,85.7 512,85 510.5,84.2 509,83.5 507.5,82.7 506,81.9 504.5,81.1 503,80.2 501.5,79.4 500,78.5 498.5,77.6 497,76.7 495.5,75.8 494,74.9 492.5,73.9 491,73 489.5,72 488,71 486.5,69.9 485,68.9 483.5,67.8 482,66.8 480.5,65.7 479,64.6 477.5,63.4 476,62.3 474.5,61.1 473,60 471.5,58.8 470,57.6 468.5,56.3 467,55.1 465.5,53.8 464,52.5 462.5,51.3 461,49.9 459.5,48.6 458,47.3 456.5,45.9 455,44.5 453.5,43.1 452,41.7 450.5,40.3 449,38.8 447.5,37.3 446,35.8 446,35.8 444.1,37.2 442.2,38.5 440.3,39.9 438.4,41.2 436.5,42.6 434.6,44 432.7,45.3 430.8,46.7 428.9,48 427,49.4 425.1,50.8 423.2,52.1 421.3,53.5 419.4,54.9 417.5,56.3 415.6,57.6 413.7,59 411.8,60.4 409.9,61.8 408,63.2 406.1,64.5 404.2,65.9 402.3,67.3 400.4,68.7 398.5,70.1 396.6,71.5 394.7,72.9 392.8,74.3 390.9,75.7 389,77.1 387.1,78.5 385.2,79.9 383.3,81.3 381.4,82.8 379.5,84.2 377.6,85.6 375.7,87 373.8,88.4 371.9,89.9 370,91.3 368.1,92.7 366.2,94.1 364.3,95.6 362.4,97 360.5,98.4 358.6,99.9 356.7,101.3 354.8,102.8 352.9,104.2 351,105.6 349.1,107.1 347.2,108.5 345.3,110 343.4,111.4 341.5,112.9 339.6,114.4 337.7,115.8 335.8,117.3 333.9,118.7 332,120.2" fill="url(#dots)" stroke="#000" stroke-width="0.9" stroke-linejoin="round"/>
<path d="M31.7 45.1L31.7 157.8L123.4 208.8L240.1 170" stroke="#000" stroke-width="1.3" fill="none" stroke-linejoin="miter"/>
<text x="125.9" y="214.8" class="tk" textLength="3.3" lengthAdjust="spacingAndGlyphs">0</text>
<text x="153.6" y="205.7" class="tk" textLength="6.6" lengthAdjust="spacingAndGlyphs">20</text>
<text x="182.8" y="196.2" class="tk" textLength="6.6" lengthAdjust="spacingAndGlyphs">40</text>
<text x="212.7" y="186.7" class="tk" textLength="6.6" lengthAdjust="spacingAndGlyphs">60</text>
<text x="240.1" y="176.6" class="tk" textLength="6.6" lengthAdjust="spacingAndGlyphs">80</text>
<text x="27.2" y="164.7" class="tk" text-anchor="end" textLength="6.6" lengthAdjust="spacingAndGlyphs">60</text>
<text x="72.1" y="188.3" class="tk" text-anchor="end" textLength="6.6" lengthAdjust="spacingAndGlyphs">55</text>
<text x="119.5" y="212.9" class="tk" text-anchor="end" textLength="6.6" lengthAdjust="spacingAndGlyphs">50</text>
<text x="24.9" y="156.5" class="tk" text-anchor="end" textLength="3.3" lengthAdjust="spacingAndGlyphs">0</text>
<text x="27.1" y="129.8" class="tk" text-anchor="end" textLength="6.6" lengthAdjust="spacingAndGlyphs">15</text>
<text x="27.1" y="101.7" class="tk" text-anchor="end" textLength="6.6" lengthAdjust="spacingAndGlyphs">30</text>
<text x="27.1" y="73.5" class="tk" text-anchor="end" textLength="6.6" lengthAdjust="spacingAndGlyphs">45</text>
<text x="27.1" y="45.3" class="tk" text-anchor="end" textLength="6.6" lengthAdjust="spacingAndGlyphs">60</text>
<path d="M123.4 208.8L121 207.4M152.6 199.1L150.1 197.7M181.8 189.4L179.3 188M210.9 179.7L208.5 178.3M240.1 170L237.7 168.6M31.7 157.8L28.7 158.8M77.6 183.3L74.5 184.3M123.4 208.8L120.4 209.8M31.7 157.8L29.1 156.5M31.7 129.6L29.1 128.3M31.7 101.5L29.1 100.2M31.7 73.3L29.1 72M31.7 45.1L29.1 43.8" stroke="#000" stroke-width="0.9" fill="none"/>
<path d="M332 55.3L332 164.7L422 214.3L536 175.7" stroke="#000" stroke-width="1.3" fill="none" stroke-linejoin="miter"/>
<text x="424.3" y="221.2" class="tk" textLength="3.3" lengthAdjust="spacingAndGlyphs">0</text>
<text x="451.5" y="211.5" class="tk" textLength="9.9" lengthAdjust="spacingAndGlyphs">250</text>
<text x="480.2" y="202.6" class="tk" textLength="9.9" lengthAdjust="spacingAndGlyphs">500</text>
<text x="507.5" y="193" class="tk" textLength="9.9" lengthAdjust="spacingAndGlyphs">750</text>
<text x="534.3" y="183.9" class="tk" textLength="13.2" lengthAdjust="spacingAndGlyphs">1000</text>
<text x="329" y="169.7" class="tk" text-anchor="end" textLength="13.2" lengthAdjust="spacingAndGlyphs">2000</text>
<text x="371.5" y="196.3" class="tk" text-anchor="end" textLength="13.2" lengthAdjust="spacingAndGlyphs">1000</text>
<text x="414" y="220" class="tk" text-anchor="end" textLength="3.3" lengthAdjust="spacingAndGlyphs">0</text>
<text x="327.6" y="163.4" class="tk" text-anchor="end" textLength="3.3" lengthAdjust="spacingAndGlyphs">0</text>
<text x="328.6" y="137.6" class="tk" text-anchor="end" textLength="6.6" lengthAdjust="spacingAndGlyphs">15</text>
<text x="328.6" y="110.2" class="tk" text-anchor="end" textLength="6.6" lengthAdjust="spacingAndGlyphs">30</text>
<text x="328.6" y="82.9" class="tk" text-anchor="end" textLength="6.6" lengthAdjust="spacingAndGlyphs">45</text>
<text x="328.6" y="55.5" class="tk" text-anchor="end" textLength="6.6" lengthAdjust="spacingAndGlyphs">60</text>
<path d="M422 214.3L419.5 212.9M450.5 204.7L448 203.3M479 195L476.5 193.6M507.5 185.4L505 184M536 175.7L533.5 174.3M332 164.7L329 165.7M377 189.5L374 190.5M422 214.3L419 215.3M332 164.7L329.4 163.4M332 137.4L329.4 136.1M332 110L329.4 108.7M332 82.7L329.4 81.4M332 55.3L329.4 54" stroke="#000" stroke-width="0.9" fill="none"/>
<text class="lb" font-weight="bold" transform="translate(13.2,101.5) rotate(-90)" text-anchor="middle">Ra</text>
<text class="lb" transform="translate(307.6,110) rotate(-90)" text-anchor="middle">Ra</text>
<text class="lb" transform="translate(58.9,211.2) rotate(24.8)" text-anchor="middle">Voltage</text>
<text class="lb" transform="translate(194.2,219.9) rotate(-15)" text-anchor="middle">Current</text>
<text class="lb" transform="translate(347.9,215.6) rotate(24)" text-anchor="middle">Pulse off time</text>
<text class="lb" transform="translate(497.6,224.3) rotate(-14.2)" text-anchor="middle">Pulse on time</text>
<text class="cp" x="130.9" y="251.4" text-anchor="middle">(c)</text>
<text class="cp" x="434.4" y="250.3" text-anchor="middle">(d)</text>
</svg>
</body></html>
